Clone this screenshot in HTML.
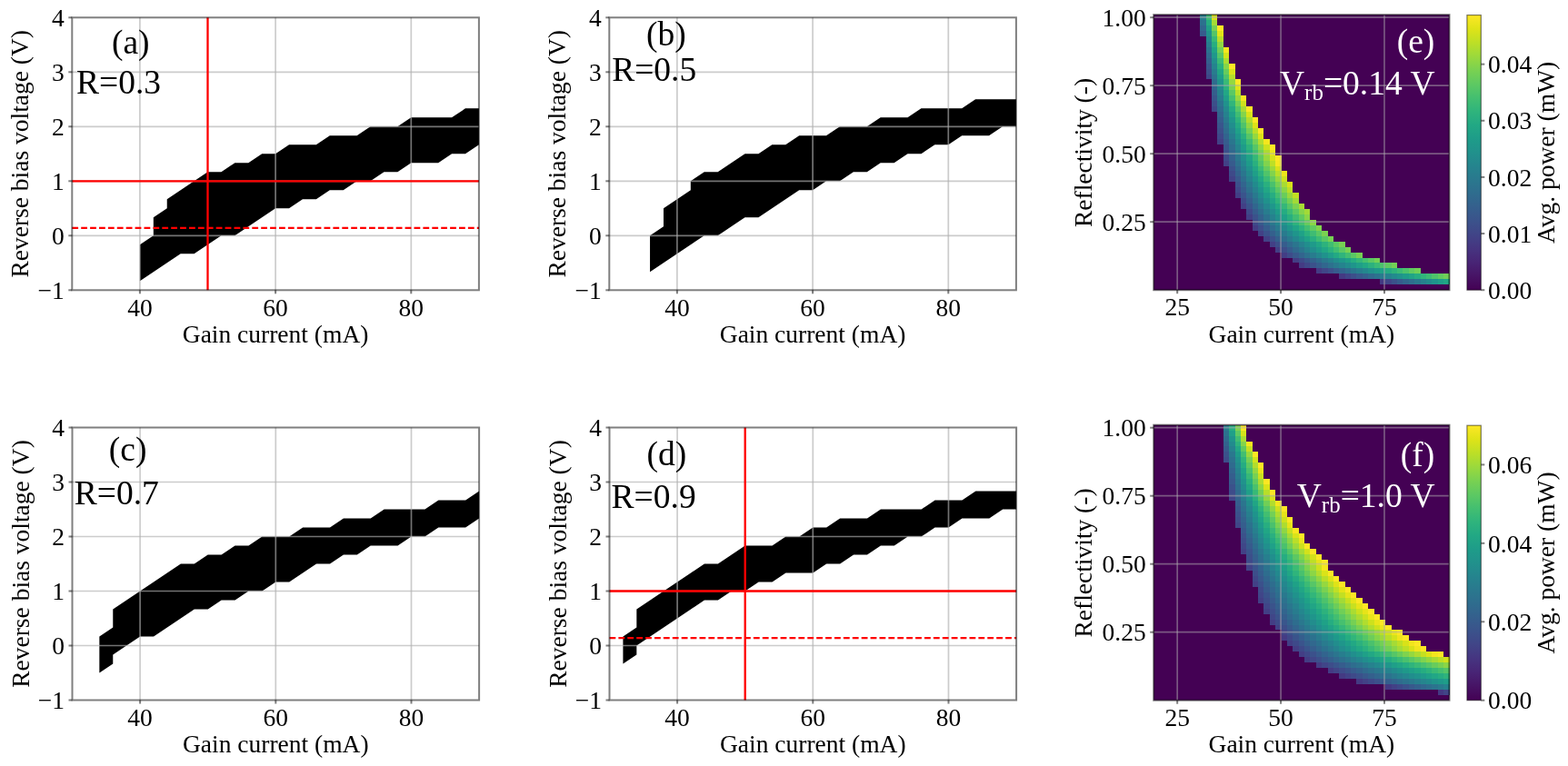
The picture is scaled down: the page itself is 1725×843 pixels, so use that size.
<!DOCTYPE html>
<html><head><meta charset="utf-8"><title>Figure</title>
<style>html,body{margin:0;padding:0;background:#fff;}svg{display:block;}</style>
</head><body>
<svg width="1725" height="843" viewBox="0 0 1725 843" font-family="'Liberation Serif',serif">
<rect width="1725" height="843" fill="#fff"/>
<polygon points="153.9,269.3 168.82,259.3 168.82,239.3 183.74,229.3 183.74,219.3 198.66,209.3 213.58,199.3 228.5,189.3 243.42,189.3 258.34,179.3 273.26,179.3 288.18,169.3 303.1,169.3 318.02,159.3 332.94,159.3 347.86,159.3 362.78,149.3 377.7,149.3 392.62,149.3 407.54,139.3 422.46,139.3 437.38,139.3 452.3,129.3 467.22,129.3 482.14,129.3 497.06,129.3 511.98,119.3 526.9,119.3 526.9,159.3 511.98,169.3 497.06,169.3 482.14,179.3 467.22,179.3 452.3,179.3 437.38,189.3 422.46,189.3 407.54,199.3 392.62,199.3 377.7,209.3 362.78,209.3 347.86,219.3 332.94,219.3 318.02,229.3 303.1,229.3 288.18,239.3 273.26,249.3 258.34,259.3 243.42,259.3 228.5,269.3 213.58,279.3 198.66,279.3 183.74,289.3 168.82,299.3 153.9,309.3" fill="#000"/>
<line x1="153.9" y1="19.3" x2="153.9" y2="319.3" stroke="#b0b0b0" stroke-opacity="0.65" stroke-width="1.7"/>
<line x1="303.1" y1="19.3" x2="303.1" y2="319.3" stroke="#b0b0b0" stroke-opacity="0.65" stroke-width="1.7"/>
<line x1="452.3" y1="19.3" x2="452.3" y2="319.3" stroke="#b0b0b0" stroke-opacity="0.65" stroke-width="1.7"/>
<line x1="79.3" y1="259.3" x2="526.9" y2="259.3" stroke="#b0b0b0" stroke-opacity="0.65" stroke-width="1.7"/>
<line x1="79.3" y1="199.3" x2="526.9" y2="199.3" stroke="#b0b0b0" stroke-opacity="0.65" stroke-width="1.7"/>
<line x1="79.3" y1="139.3" x2="526.9" y2="139.3" stroke="#b0b0b0" stroke-opacity="0.65" stroke-width="1.7"/>
<line x1="79.3" y1="79.3" x2="526.9" y2="79.3" stroke="#b0b0b0" stroke-opacity="0.65" stroke-width="1.7"/>
<line x1="228.5" y1="19.3" x2="228.5" y2="319.3" stroke="#ff0000" stroke-width="2.3"/>
<line x1="79.3" y1="199.3" x2="526.9" y2="199.3" stroke="#ff0000" stroke-width="2.3"/>
<line x1="79.3" y1="250.9" x2="526.9" y2="250.9" stroke="#ff0000" stroke-width="2.1" stroke-dasharray="6.8 3.1"/>
<rect x="79.3" y="19.3" width="447.6" height="300" fill="none" stroke="#000" stroke-opacity="0.5" stroke-width="2"/>
<line x1="153.9" y1="319.3" x2="153.9" y2="323.3" stroke="#000" stroke-opacity="0.5" stroke-width="2"/>
<text x="153.9" y="347.5" font-size="27.5" text-anchor="middle">40</text>
<line x1="303.1" y1="319.3" x2="303.1" y2="323.3" stroke="#000" stroke-opacity="0.5" stroke-width="2"/>
<text x="303.1" y="347.5" font-size="27.5" text-anchor="middle">60</text>
<line x1="452.3" y1="319.3" x2="452.3" y2="323.3" stroke="#000" stroke-opacity="0.5" stroke-width="2"/>
<text x="452.3" y="347.5" font-size="27.5" text-anchor="middle">80</text>
<line x1="75.3" y1="319.3" x2="79.3" y2="319.3" stroke="#000" stroke-opacity="0.5" stroke-width="2"/>
<text x="70.8" y="329" font-size="27.5" text-anchor="end">−1</text>
<line x1="75.3" y1="259.3" x2="79.3" y2="259.3" stroke="#000" stroke-opacity="0.5" stroke-width="2"/>
<text x="70.8" y="269" font-size="27.5" text-anchor="end">0</text>
<line x1="75.3" y1="199.3" x2="79.3" y2="199.3" stroke="#000" stroke-opacity="0.5" stroke-width="2"/>
<text x="70.8" y="209" font-size="27.5" text-anchor="end">1</text>
<line x1="75.3" y1="139.3" x2="79.3" y2="139.3" stroke="#000" stroke-opacity="0.5" stroke-width="2"/>
<text x="70.8" y="149" font-size="27.5" text-anchor="end">2</text>
<line x1="75.3" y1="79.3" x2="79.3" y2="79.3" stroke="#000" stroke-opacity="0.5" stroke-width="2"/>
<text x="70.8" y="89" font-size="27.5" text-anchor="end">3</text>
<line x1="75.3" y1="19.3" x2="79.3" y2="19.3" stroke="#000" stroke-opacity="0.5" stroke-width="2"/>
<text x="70.8" y="29" font-size="27.5" text-anchor="end">4</text>
<text x="303.1" y="376.8" font-size="27.5" text-anchor="middle">Gain current (mA)</text>
<text transform="translate(31.3,169.3) rotate(-90)" font-size="27.5" text-anchor="middle">Reverse bias voltage (V)</text>
<text x="122.9" y="58.6" font-size="37.5">(a)</text>
<text x="84" y="102.8" font-size="37.5">R=0.3</text>
<polygon points="715.06,259.3 729.98,249.3 729.98,229.3 744.9,219.3 759.82,209.3 759.82,199.3 774.74,189.3 789.66,189.3 804.58,179.3 819.5,169.3 834.42,169.3 849.34,159.3 864.26,159.3 879.18,149.3 894.1,149.3 909.02,149.3 923.94,139.3 938.86,139.3 953.78,139.3 968.7,129.3 983.62,129.3 998.54,129.3 1013.46,119.3 1028.38,119.3 1043.3,119.3 1058.22,119.3 1073.14,109.3 1088.06,109.3 1102.98,109.3 1117.9,109.3 1117.9,139.3 1102.98,139.3 1088.06,149.3 1073.14,149.3 1058.22,149.3 1043.3,159.3 1028.38,159.3 1013.46,169.3 998.54,169.3 983.62,179.3 968.7,179.3 953.78,189.3 938.86,189.3 923.94,199.3 909.02,199.3 894.1,209.3 879.18,209.3 864.26,219.3 849.34,229.3 834.42,239.3 819.5,239.3 804.58,249.3 789.66,259.3 774.74,259.3 759.82,269.3 744.9,279.3 729.98,289.3 715.06,299.3" fill="#000"/>
<line x1="744.9" y1="19.3" x2="744.9" y2="319.3" stroke="#b0b0b0" stroke-opacity="0.65" stroke-width="1.7"/>
<line x1="894.1" y1="19.3" x2="894.1" y2="319.3" stroke="#b0b0b0" stroke-opacity="0.65" stroke-width="1.7"/>
<line x1="1043.3" y1="19.3" x2="1043.3" y2="319.3" stroke="#b0b0b0" stroke-opacity="0.65" stroke-width="1.7"/>
<line x1="670.3" y1="259.3" x2="1117.9" y2="259.3" stroke="#b0b0b0" stroke-opacity="0.65" stroke-width="1.7"/>
<line x1="670.3" y1="199.3" x2="1117.9" y2="199.3" stroke="#b0b0b0" stroke-opacity="0.65" stroke-width="1.7"/>
<line x1="670.3" y1="139.3" x2="1117.9" y2="139.3" stroke="#b0b0b0" stroke-opacity="0.65" stroke-width="1.7"/>
<line x1="670.3" y1="79.3" x2="1117.9" y2="79.3" stroke="#b0b0b0" stroke-opacity="0.65" stroke-width="1.7"/>
<rect x="670.3" y="19.3" width="447.6" height="300" fill="none" stroke="#000" stroke-opacity="0.5" stroke-width="2"/>
<line x1="744.9" y1="319.3" x2="744.9" y2="323.3" stroke="#000" stroke-opacity="0.5" stroke-width="2"/>
<text x="744.9" y="347.5" font-size="27.5" text-anchor="middle">40</text>
<line x1="894.1" y1="319.3" x2="894.1" y2="323.3" stroke="#000" stroke-opacity="0.5" stroke-width="2"/>
<text x="894.1" y="347.5" font-size="27.5" text-anchor="middle">60</text>
<line x1="1043.3" y1="319.3" x2="1043.3" y2="323.3" stroke="#000" stroke-opacity="0.5" stroke-width="2"/>
<text x="1043.3" y="347.5" font-size="27.5" text-anchor="middle">80</text>
<line x1="666.3" y1="319.3" x2="670.3" y2="319.3" stroke="#000" stroke-opacity="0.5" stroke-width="2"/>
<text x="661.8" y="329" font-size="27.5" text-anchor="end">−1</text>
<line x1="666.3" y1="259.3" x2="670.3" y2="259.3" stroke="#000" stroke-opacity="0.5" stroke-width="2"/>
<text x="661.8" y="269" font-size="27.5" text-anchor="end">0</text>
<line x1="666.3" y1="199.3" x2="670.3" y2="199.3" stroke="#000" stroke-opacity="0.5" stroke-width="2"/>
<text x="661.8" y="209" font-size="27.5" text-anchor="end">1</text>
<line x1="666.3" y1="139.3" x2="670.3" y2="139.3" stroke="#000" stroke-opacity="0.5" stroke-width="2"/>
<text x="661.8" y="149" font-size="27.5" text-anchor="end">2</text>
<line x1="666.3" y1="79.3" x2="670.3" y2="79.3" stroke="#000" stroke-opacity="0.5" stroke-width="2"/>
<text x="661.8" y="89" font-size="27.5" text-anchor="end">3</text>
<line x1="666.3" y1="19.3" x2="670.3" y2="19.3" stroke="#000" stroke-opacity="0.5" stroke-width="2"/>
<text x="661.8" y="29" font-size="27.5" text-anchor="end">4</text>
<text x="894.1" y="376.8" font-size="27.5" text-anchor="middle">Gain current (mA)</text>
<text transform="translate(622.3,169.3) rotate(-90)" font-size="27.5" text-anchor="middle">Reverse bias voltage (V)</text>
<text x="711" y="50.2" font-size="37.5">(b)</text>
<text x="673.2" y="88.6" font-size="37.5">R=0.5</text>
<polygon points="109.34,700.5 124.26,690.5 124.26,670.5 139.18,660.5 154.1,650.5 169.02,640.5 183.94,630.5 198.86,620.5 213.78,620.5 228.7,610.5 243.62,610.5 258.54,600.5 273.46,600.5 288.38,590.5 303.3,590.5 318.22,590.5 333.14,580.5 348.06,580.5 362.98,580.5 377.9,570.5 392.82,570.5 407.74,570.5 422.66,560.5 437.58,560.5 452.5,560.5 467.42,560.5 482.34,550.5 497.26,550.5 512.18,550.5 527.1,540.5 527.1,570.5 512.18,580.5 497.26,580.5 482.34,580.5 467.42,590.5 452.5,590.5 437.58,600.5 422.66,600.5 407.74,600.5 392.82,610.5 377.9,610.5 362.98,620.5 348.06,620.5 333.14,630.5 318.22,640.5 303.3,640.5 288.38,650.5 273.46,650.5 258.54,660.5 243.62,660.5 228.7,670.5 213.78,670.5 198.86,680.5 183.94,690.5 169.02,700.5 154.1,700.5 139.18,710.5 124.26,720.5 124.26,730.5 109.34,740.5" fill="#000"/>
<line x1="154.1" y1="470.5" x2="154.1" y2="770.5" stroke="#b0b0b0" stroke-opacity="0.65" stroke-width="1.7"/>
<line x1="303.3" y1="470.5" x2="303.3" y2="770.5" stroke="#b0b0b0" stroke-opacity="0.65" stroke-width="1.7"/>
<line x1="452.5" y1="470.5" x2="452.5" y2="770.5" stroke="#b0b0b0" stroke-opacity="0.65" stroke-width="1.7"/>
<line x1="79.5" y1="710.5" x2="527.1" y2="710.5" stroke="#b0b0b0" stroke-opacity="0.65" stroke-width="1.7"/>
<line x1="79.5" y1="650.5" x2="527.1" y2="650.5" stroke="#b0b0b0" stroke-opacity="0.65" stroke-width="1.7"/>
<line x1="79.5" y1="590.5" x2="527.1" y2="590.5" stroke="#b0b0b0" stroke-opacity="0.65" stroke-width="1.7"/>
<line x1="79.5" y1="530.5" x2="527.1" y2="530.5" stroke="#b0b0b0" stroke-opacity="0.65" stroke-width="1.7"/>
<rect x="79.5" y="470.5" width="447.6" height="300" fill="none" stroke="#000" stroke-opacity="0.5" stroke-width="2"/>
<line x1="154.1" y1="770.5" x2="154.1" y2="774.5" stroke="#000" stroke-opacity="0.5" stroke-width="2"/>
<text x="154.1" y="798.7" font-size="27.5" text-anchor="middle">40</text>
<line x1="303.3" y1="770.5" x2="303.3" y2="774.5" stroke="#000" stroke-opacity="0.5" stroke-width="2"/>
<text x="303.3" y="798.7" font-size="27.5" text-anchor="middle">60</text>
<line x1="452.5" y1="770.5" x2="452.5" y2="774.5" stroke="#000" stroke-opacity="0.5" stroke-width="2"/>
<text x="452.5" y="798.7" font-size="27.5" text-anchor="middle">80</text>
<line x1="75.5" y1="770.5" x2="79.5" y2="770.5" stroke="#000" stroke-opacity="0.5" stroke-width="2"/>
<text x="71" y="780.2" font-size="27.5" text-anchor="end">−1</text>
<line x1="75.5" y1="710.5" x2="79.5" y2="710.5" stroke="#000" stroke-opacity="0.5" stroke-width="2"/>
<text x="71" y="720.2" font-size="27.5" text-anchor="end">0</text>
<line x1="75.5" y1="650.5" x2="79.5" y2="650.5" stroke="#000" stroke-opacity="0.5" stroke-width="2"/>
<text x="71" y="660.2" font-size="27.5" text-anchor="end">1</text>
<line x1="75.5" y1="590.5" x2="79.5" y2="590.5" stroke="#000" stroke-opacity="0.5" stroke-width="2"/>
<text x="71" y="600.2" font-size="27.5" text-anchor="end">2</text>
<line x1="75.5" y1="530.5" x2="79.5" y2="530.5" stroke="#000" stroke-opacity="0.5" stroke-width="2"/>
<text x="71" y="540.2" font-size="27.5" text-anchor="end">3</text>
<line x1="75.5" y1="470.5" x2="79.5" y2="470.5" stroke="#000" stroke-opacity="0.5" stroke-width="2"/>
<text x="71" y="480.2" font-size="27.5" text-anchor="end">4</text>
<text x="303.3" y="828" font-size="27.5" text-anchor="middle">Gain current (mA)</text>
<text transform="translate(31.5,620.5) rotate(-90)" font-size="27.5" text-anchor="middle">Reverse bias voltage (V)</text>
<text x="119.8" y="506.8" font-size="37.5">(c)</text>
<text x="81.8" y="554.6" font-size="37.5">R=0.7</text>
<polygon points="685.42,700.5 700.34,690.5 700.34,670.5 715.26,660.5 730.18,650.5 745.1,640.5 760.02,630.5 774.94,620.5 789.86,620.5 804.78,610.5 819.7,600.5 834.62,600.5 849.54,600.5 864.46,590.5 879.38,590.5 894.3,580.5 909.22,580.5 924.14,570.5 939.06,570.5 953.98,570.5 968.9,560.5 983.82,560.5 998.74,560.5 1013.66,560.5 1028.58,550.5 1043.5,550.5 1058.42,550.5 1073.34,540.5 1088.26,540.5 1103.18,540.5 1118.1,540.5 1118.1,560.5 1103.18,560.5 1088.26,570.5 1073.34,570.5 1058.42,570.5 1043.5,580.5 1028.58,580.5 1013.66,590.5 998.74,590.5 983.82,600.5 968.9,600.5 953.98,610.5 939.06,610.5 924.14,620.5 909.22,620.5 894.3,630.5 879.38,630.5 864.46,630.5 849.54,640.5 834.62,640.5 819.7,650.5 804.78,650.5 789.86,660.5 774.94,660.5 760.02,670.5 745.1,680.5 730.18,690.5 715.26,700.5 700.34,710.5 700.34,720.5 685.42,730.5" fill="#000"/>
<line x1="745.1" y1="470.5" x2="745.1" y2="770.5" stroke="#b0b0b0" stroke-opacity="0.65" stroke-width="1.7"/>
<line x1="894.3" y1="470.5" x2="894.3" y2="770.5" stroke="#b0b0b0" stroke-opacity="0.65" stroke-width="1.7"/>
<line x1="1043.5" y1="470.5" x2="1043.5" y2="770.5" stroke="#b0b0b0" stroke-opacity="0.65" stroke-width="1.7"/>
<line x1="670.5" y1="710.5" x2="1118.1" y2="710.5" stroke="#b0b0b0" stroke-opacity="0.65" stroke-width="1.7"/>
<line x1="670.5" y1="650.5" x2="1118.1" y2="650.5" stroke="#b0b0b0" stroke-opacity="0.65" stroke-width="1.7"/>
<line x1="670.5" y1="590.5" x2="1118.1" y2="590.5" stroke="#b0b0b0" stroke-opacity="0.65" stroke-width="1.7"/>
<line x1="670.5" y1="530.5" x2="1118.1" y2="530.5" stroke="#b0b0b0" stroke-opacity="0.65" stroke-width="1.7"/>
<line x1="819.7" y1="470.5" x2="819.7" y2="770.5" stroke="#ff0000" stroke-width="2.3"/>
<line x1="670.5" y1="650.5" x2="1118.1" y2="650.5" stroke="#ff0000" stroke-width="2.3"/>
<line x1="670.5" y1="702.1" x2="1118.1" y2="702.1" stroke="#ff0000" stroke-width="2.1" stroke-dasharray="6.8 3.1"/>
<rect x="670.5" y="470.5" width="447.6" height="300" fill="none" stroke="#000" stroke-opacity="0.5" stroke-width="2"/>
<line x1="745.1" y1="770.5" x2="745.1" y2="774.5" stroke="#000" stroke-opacity="0.5" stroke-width="2"/>
<text x="745.1" y="798.7" font-size="27.5" text-anchor="middle">40</text>
<line x1="894.3" y1="770.5" x2="894.3" y2="774.5" stroke="#000" stroke-opacity="0.5" stroke-width="2"/>
<text x="894.3" y="798.7" font-size="27.5" text-anchor="middle">60</text>
<line x1="1043.5" y1="770.5" x2="1043.5" y2="774.5" stroke="#000" stroke-opacity="0.5" stroke-width="2"/>
<text x="1043.5" y="798.7" font-size="27.5" text-anchor="middle">80</text>
<line x1="666.5" y1="770.5" x2="670.5" y2="770.5" stroke="#000" stroke-opacity="0.5" stroke-width="2"/>
<text x="662" y="780.2" font-size="27.5" text-anchor="end">−1</text>
<line x1="666.5" y1="710.5" x2="670.5" y2="710.5" stroke="#000" stroke-opacity="0.5" stroke-width="2"/>
<text x="662" y="720.2" font-size="27.5" text-anchor="end">0</text>
<line x1="666.5" y1="650.5" x2="670.5" y2="650.5" stroke="#000" stroke-opacity="0.5" stroke-width="2"/>
<text x="662" y="660.2" font-size="27.5" text-anchor="end">1</text>
<line x1="666.5" y1="590.5" x2="670.5" y2="590.5" stroke="#000" stroke-opacity="0.5" stroke-width="2"/>
<text x="662" y="600.2" font-size="27.5" text-anchor="end">2</text>
<line x1="666.5" y1="530.5" x2="670.5" y2="530.5" stroke="#000" stroke-opacity="0.5" stroke-width="2"/>
<text x="662" y="540.2" font-size="27.5" text-anchor="end">3</text>
<line x1="666.5" y1="470.5" x2="670.5" y2="470.5" stroke="#000" stroke-opacity="0.5" stroke-width="2"/>
<text x="662" y="480.2" font-size="27.5" text-anchor="end">4</text>
<text x="894.3" y="828" font-size="27.5" text-anchor="middle">Gain current (mA)</text>
<text transform="translate(622.5,620.5) rotate(-90)" font-size="27.5" text-anchor="middle">Reverse bias voltage (V)</text>
<text x="711.5" y="512.2" font-size="37.5">(d)</text>
<text x="672.6" y="559.2" font-size="37.5">R=0.9</text>
<rect x="1269.2" y="16.2" width="325.3" height="303" fill="#440154"/>
<rect x="1320.23" y="16.2" width="6.38" height="5.94" fill="#277e8e" shape-rendering="crispEdges"/>
<rect x="1326.61" y="16.2" width="6.38" height="5.94" fill="#3dbc74" shape-rendering="crispEdges"/>
<rect x="1332.98" y="16.2" width="6.38" height="5.94" fill="#dae319" shape-rendering="crispEdges"/>
<rect x="1320.23" y="22.14" width="6.38" height="5.94" fill="#2c718e" shape-rendering="crispEdges"/>
<rect x="1326.61" y="22.14" width="6.38" height="5.94" fill="#26ad81" shape-rendering="crispEdges"/>
<rect x="1332.98" y="22.14" width="6.38" height="5.94" fill="#a5db36" shape-rendering="crispEdges"/>
<rect x="1320.23" y="28.08" width="6.38" height="5.94" fill="#31668e" shape-rendering="crispEdges"/>
<rect x="1326.61" y="28.08" width="6.38" height="5.94" fill="#1f9f88" shape-rendering="crispEdges"/>
<rect x="1332.98" y="28.08" width="6.38" height="5.94" fill="#77d153" shape-rendering="crispEdges"/>
<rect x="1339.36" y="28.08" width="6.38" height="5.94" fill="#fde725" shape-rendering="crispEdges"/>
<rect x="1320.23" y="34.02" width="6.38" height="5.94" fill="#375b8d" shape-rendering="crispEdges"/>
<rect x="1326.61" y="34.02" width="6.38" height="5.94" fill="#20928c" shape-rendering="crispEdges"/>
<rect x="1332.98" y="34.02" width="6.38" height="5.94" fill="#54c568" shape-rendering="crispEdges"/>
<rect x="1339.36" y="34.02" width="6.38" height="5.94" fill="#e2e418" shape-rendering="crispEdges"/>
<rect x="1326.61" y="39.96" width="6.38" height="5.94" fill="#24868e" shape-rendering="crispEdges"/>
<rect x="1332.98" y="39.96" width="6.38" height="5.94" fill="#38b977" shape-rendering="crispEdges"/>
<rect x="1339.36" y="39.96" width="6.38" height="5.94" fill="#b8de29" shape-rendering="crispEdges"/>
<rect x="1326.61" y="45.91" width="6.38" height="5.94" fill="#287c8e" shape-rendering="crispEdges"/>
<rect x="1332.98" y="45.91" width="6.38" height="5.94" fill="#28ae80" shape-rendering="crispEdges"/>
<rect x="1339.36" y="45.91" width="6.38" height="5.94" fill="#90d743" shape-rendering="crispEdges"/>
<rect x="1326.61" y="51.85" width="6.38" height="5.94" fill="#2c718e" shape-rendering="crispEdges"/>
<rect x="1332.98" y="51.85" width="6.38" height="5.94" fill="#20a386" shape-rendering="crispEdges"/>
<rect x="1339.36" y="51.85" width="6.38" height="5.94" fill="#70cf57" shape-rendering="crispEdges"/>
<rect x="1345.74" y="51.85" width="6.38" height="5.94" fill="#f6e620" shape-rendering="crispEdges"/>
<rect x="1326.61" y="57.79" width="6.38" height="5.94" fill="#31688e" shape-rendering="crispEdges"/>
<rect x="1332.98" y="57.79" width="6.38" height="5.94" fill="#1f988b" shape-rendering="crispEdges"/>
<rect x="1339.36" y="57.79" width="6.38" height="5.94" fill="#54c568" shape-rendering="crispEdges"/>
<rect x="1345.74" y="57.79" width="6.38" height="5.94" fill="#d2e21b" shape-rendering="crispEdges"/>
<rect x="1326.61" y="63.73" width="6.38" height="5.94" fill="#355f8d" shape-rendering="crispEdges"/>
<rect x="1332.98" y="63.73" width="6.38" height="5.94" fill="#218e8d" shape-rendering="crispEdges"/>
<rect x="1339.36" y="63.73" width="6.38" height="5.94" fill="#3bbb75" shape-rendering="crispEdges"/>
<rect x="1345.74" y="63.73" width="6.38" height="5.94" fill="#aadc32" shape-rendering="crispEdges"/>
<rect x="1326.61" y="69.67" width="6.38" height="5.94" fill="#39568c" shape-rendering="crispEdges"/>
<rect x="1332.98" y="69.67" width="6.38" height="5.94" fill="#25848e" shape-rendering="crispEdges"/>
<rect x="1339.36" y="69.67" width="6.38" height="5.94" fill="#2ab07f" shape-rendering="crispEdges"/>
<rect x="1345.74" y="69.67" width="6.38" height="5.94" fill="#86d549" shape-rendering="crispEdges"/>
<rect x="1352.12" y="69.67" width="6.38" height="5.94" fill="#fde725" shape-rendering="crispEdges"/>
<rect x="1326.61" y="75.61" width="6.38" height="5.94" fill="#3c4f8a" shape-rendering="crispEdges"/>
<rect x="1332.98" y="75.61" width="6.38" height="5.94" fill="#287c8e" shape-rendering="crispEdges"/>
<rect x="1339.36" y="75.61" width="6.38" height="5.94" fill="#21a685" shape-rendering="crispEdges"/>
<rect x="1345.74" y="75.61" width="6.38" height="5.94" fill="#67cc5c" shape-rendering="crispEdges"/>
<rect x="1352.12" y="75.61" width="6.38" height="5.94" fill="#dae319" shape-rendering="crispEdges"/>
<rect x="1326.61" y="81.55" width="6.38" height="5.94" fill="#3f4788" shape-rendering="crispEdges"/>
<rect x="1332.98" y="81.55" width="6.38" height="5.94" fill="#2c738e" shape-rendering="crispEdges"/>
<rect x="1339.36" y="81.55" width="6.38" height="5.94" fill="#1e9d89" shape-rendering="crispEdges"/>
<rect x="1345.74" y="81.55" width="6.38" height="5.94" fill="#4ec36b" shape-rendering="crispEdges"/>
<rect x="1352.12" y="81.55" width="6.38" height="5.94" fill="#b5de2b" shape-rendering="crispEdges"/>
<rect x="1332.98" y="87.49" width="6.38" height="5.94" fill="#2f6c8e" shape-rendering="crispEdges"/>
<rect x="1339.36" y="87.49" width="6.38" height="5.94" fill="#20938c" shape-rendering="crispEdges"/>
<rect x="1345.74" y="87.49" width="6.38" height="5.94" fill="#3aba76" shape-rendering="crispEdges"/>
<rect x="1352.12" y="87.49" width="6.38" height="5.94" fill="#95d840" shape-rendering="crispEdges"/>
<rect x="1358.5" y="87.49" width="6.38" height="5.94" fill="#fde725" shape-rendering="crispEdges"/>
<rect x="1332.98" y="93.44" width="6.38" height="5.94" fill="#32658e" shape-rendering="crispEdges"/>
<rect x="1339.36" y="93.44" width="6.38" height="5.94" fill="#228b8d" shape-rendering="crispEdges"/>
<rect x="1345.74" y="93.44" width="6.38" height="5.94" fill="#2cb17e" shape-rendering="crispEdges"/>
<rect x="1352.12" y="93.44" width="6.38" height="5.94" fill="#77d153" shape-rendering="crispEdges"/>
<rect x="1358.5" y="93.44" width="6.38" height="5.94" fill="#dfe318" shape-rendering="crispEdges"/>
<rect x="1332.98" y="99.38" width="6.38" height="5.94" fill="#355e8d" shape-rendering="crispEdges"/>
<rect x="1339.36" y="99.38" width="6.38" height="5.94" fill="#26828e" shape-rendering="crispEdges"/>
<rect x="1345.74" y="99.38" width="6.38" height="5.94" fill="#22a785" shape-rendering="crispEdges"/>
<rect x="1352.12" y="99.38" width="6.38" height="5.94" fill="#5ac864" shape-rendering="crispEdges"/>
<rect x="1358.5" y="99.38" width="6.38" height="5.94" fill="#bade28" shape-rendering="crispEdges"/>
<rect x="1332.98" y="105.32" width="6.38" height="5.94" fill="#39568c" shape-rendering="crispEdges"/>
<rect x="1339.36" y="105.32" width="6.38" height="5.94" fill="#297b8e" shape-rendering="crispEdges"/>
<rect x="1345.74" y="105.32" width="6.38" height="5.94" fill="#1f9e89" shape-rendering="crispEdges"/>
<rect x="1352.12" y="105.32" width="6.38" height="5.94" fill="#44bf70" shape-rendering="crispEdges"/>
<rect x="1358.5" y="105.32" width="6.38" height="5.94" fill="#98d83e" shape-rendering="crispEdges"/>
<rect x="1364.88" y="105.32" width="6.38" height="5.94" fill="#f8e621" shape-rendering="crispEdges"/>
<rect x="1332.98" y="111.26" width="6.38" height="5.94" fill="#3c4f8a" shape-rendering="crispEdges"/>
<rect x="1339.36" y="111.26" width="6.38" height="5.94" fill="#2c728e" shape-rendering="crispEdges"/>
<rect x="1345.74" y="111.26" width="6.38" height="5.94" fill="#20938c" shape-rendering="crispEdges"/>
<rect x="1352.12" y="111.26" width="6.38" height="5.94" fill="#31b57b" shape-rendering="crispEdges"/>
<rect x="1358.5" y="111.26" width="6.38" height="5.94" fill="#75d054" shape-rendering="crispEdges"/>
<rect x="1364.88" y="111.26" width="6.38" height="5.94" fill="#d0e11c" shape-rendering="crispEdges"/>
<rect x="1332.98" y="117.2" width="6.38" height="5.94" fill="#3f4788" shape-rendering="crispEdges"/>
<rect x="1339.36" y="117.2" width="6.38" height="5.94" fill="#2f6b8e" shape-rendering="crispEdges"/>
<rect x="1345.74" y="117.2" width="6.38" height="5.94" fill="#238a8d" shape-rendering="crispEdges"/>
<rect x="1352.12" y="117.2" width="6.38" height="5.94" fill="#24aa83" shape-rendering="crispEdges"/>
<rect x="1358.5" y="117.2" width="6.38" height="5.94" fill="#56c667" shape-rendering="crispEdges"/>
<rect x="1364.88" y="117.2" width="6.38" height="5.94" fill="#a8db34" shape-rendering="crispEdges"/>
<rect x="1371.25" y="117.2" width="6.38" height="5.94" fill="#fde725" shape-rendering="crispEdges"/>
<rect x="1339.36" y="123.14" width="6.38" height="5.94" fill="#33638d" shape-rendering="crispEdges"/>
<rect x="1345.74" y="123.14" width="6.38" height="5.94" fill="#26828e" shape-rendering="crispEdges"/>
<rect x="1352.12" y="123.14" width="6.38" height="5.94" fill="#1fa088" shape-rendering="crispEdges"/>
<rect x="1358.5" y="123.14" width="6.38" height="5.94" fill="#3fbc73" shape-rendering="crispEdges"/>
<rect x="1364.88" y="123.14" width="6.38" height="5.94" fill="#84d44b" shape-rendering="crispEdges"/>
<rect x="1371.25" y="123.14" width="6.38" height="5.94" fill="#d8e219" shape-rendering="crispEdges"/>
<rect x="1339.36" y="129.08" width="6.38" height="5.94" fill="#365c8d" shape-rendering="crispEdges"/>
<rect x="1345.74" y="129.08" width="6.38" height="5.94" fill="#297a8e" shape-rendering="crispEdges"/>
<rect x="1352.12" y="129.08" width="6.38" height="5.94" fill="#1f968b" shape-rendering="crispEdges"/>
<rect x="1358.5" y="129.08" width="6.38" height="5.94" fill="#2eb37c" shape-rendering="crispEdges"/>
<rect x="1364.88" y="129.08" width="6.38" height="5.94" fill="#65cb5e" shape-rendering="crispEdges"/>
<rect x="1371.25" y="129.08" width="6.38" height="5.94" fill="#b2dd2d" shape-rendering="crispEdges"/>
<rect x="1377.63" y="129.08" width="6.38" height="5.94" fill="#fde725" shape-rendering="crispEdges"/>
<rect x="1339.36" y="135.02" width="6.38" height="5.94" fill="#39558c" shape-rendering="crispEdges"/>
<rect x="1345.74" y="135.02" width="6.38" height="5.94" fill="#2c728e" shape-rendering="crispEdges"/>
<rect x="1352.12" y="135.02" width="6.38" height="5.94" fill="#218e8d" shape-rendering="crispEdges"/>
<rect x="1358.5" y="135.02" width="6.38" height="5.94" fill="#24aa83" shape-rendering="crispEdges"/>
<rect x="1364.88" y="135.02" width="6.38" height="5.94" fill="#4ec36b" shape-rendering="crispEdges"/>
<rect x="1371.25" y="135.02" width="6.38" height="5.94" fill="#90d743" shape-rendering="crispEdges"/>
<rect x="1377.63" y="135.02" width="6.38" height="5.94" fill="#dde318" shape-rendering="crispEdges"/>
<rect x="1339.36" y="140.96" width="6.38" height="5.94" fill="#3c4f8a" shape-rendering="crispEdges"/>
<rect x="1345.74" y="140.96" width="6.38" height="5.94" fill="#2f6c8e" shape-rendering="crispEdges"/>
<rect x="1352.12" y="140.96" width="6.38" height="5.94" fill="#24868e" shape-rendering="crispEdges"/>
<rect x="1358.5" y="140.96" width="6.38" height="5.94" fill="#1fa188" shape-rendering="crispEdges"/>
<rect x="1364.88" y="140.96" width="6.38" height="5.94" fill="#3aba76" shape-rendering="crispEdges"/>
<rect x="1371.25" y="140.96" width="6.38" height="5.94" fill="#73d056" shape-rendering="crispEdges"/>
<rect x="1377.63" y="140.96" width="6.38" height="5.94" fill="#bade28" shape-rendering="crispEdges"/>
<rect x="1384.01" y="140.96" width="6.38" height="5.94" fill="#fde725" shape-rendering="crispEdges"/>
<rect x="1339.36" y="146.91" width="6.38" height="5.94" fill="#3f4889" shape-rendering="crispEdges"/>
<rect x="1345.74" y="146.91" width="6.38" height="5.94" fill="#32648e" shape-rendering="crispEdges"/>
<rect x="1352.12" y="146.91" width="6.38" height="5.94" fill="#277e8e" shape-rendering="crispEdges"/>
<rect x="1358.5" y="146.91" width="6.38" height="5.94" fill="#1f978b" shape-rendering="crispEdges"/>
<rect x="1364.88" y="146.91" width="6.38" height="5.94" fill="#29af7f" shape-rendering="crispEdges"/>
<rect x="1371.25" y="146.91" width="6.38" height="5.94" fill="#56c667" shape-rendering="crispEdges"/>
<rect x="1377.63" y="146.91" width="6.38" height="5.94" fill="#95d840" shape-rendering="crispEdges"/>
<rect x="1384.01" y="146.91" width="6.38" height="5.94" fill="#dde318" shape-rendering="crispEdges"/>
<rect x="1339.36" y="152.85" width="6.38" height="5.94" fill="#424186" shape-rendering="crispEdges"/>
<rect x="1345.74" y="152.85" width="6.38" height="5.94" fill="#365d8d" shape-rendering="crispEdges"/>
<rect x="1352.12" y="152.85" width="6.38" height="5.94" fill="#2a768e" shape-rendering="crispEdges"/>
<rect x="1358.5" y="152.85" width="6.38" height="5.94" fill="#218e8d" shape-rendering="crispEdges"/>
<rect x="1364.88" y="152.85" width="6.38" height="5.94" fill="#21a585" shape-rendering="crispEdges"/>
<rect x="1371.25" y="152.85" width="6.38" height="5.94" fill="#3dbc74" shape-rendering="crispEdges"/>
<rect x="1377.63" y="152.85" width="6.38" height="5.94" fill="#73d056" shape-rendering="crispEdges"/>
<rect x="1384.01" y="152.85" width="6.38" height="5.94" fill="#b2dd2d" shape-rendering="crispEdges"/>
<rect x="1390.39" y="152.85" width="6.38" height="5.94" fill="#f4e61e" shape-rendering="crispEdges"/>
<rect x="1345.74" y="158.79" width="6.38" height="5.94" fill="#39568c" shape-rendering="crispEdges"/>
<rect x="1352.12" y="158.79" width="6.38" height="5.94" fill="#2e6f8e" shape-rendering="crispEdges"/>
<rect x="1358.5" y="158.79" width="6.38" height="5.94" fill="#25858e" shape-rendering="crispEdges"/>
<rect x="1364.88" y="158.79" width="6.38" height="5.94" fill="#1e9c89" shape-rendering="crispEdges"/>
<rect x="1371.25" y="158.79" width="6.38" height="5.94" fill="#2db27d" shape-rendering="crispEdges"/>
<rect x="1377.63" y="158.79" width="6.38" height="5.94" fill="#56c667" shape-rendering="crispEdges"/>
<rect x="1384.01" y="158.79" width="6.38" height="5.94" fill="#8ed645" shape-rendering="crispEdges"/>
<rect x="1390.39" y="158.79" width="6.38" height="5.94" fill="#cde11d" shape-rendering="crispEdges"/>
<rect x="1396.77" y="158.79" width="6.38" height="5.94" fill="#fde725" shape-rendering="crispEdges"/>
<rect x="1345.74" y="164.73" width="6.38" height="5.94" fill="#3c508b" shape-rendering="crispEdges"/>
<rect x="1352.12" y="164.73" width="6.38" height="5.94" fill="#31688e" shape-rendering="crispEdges"/>
<rect x="1358.5" y="164.73" width="6.38" height="5.94" fill="#277e8e" shape-rendering="crispEdges"/>
<rect x="1364.88" y="164.73" width="6.38" height="5.94" fill="#1f948c" shape-rendering="crispEdges"/>
<rect x="1371.25" y="164.73" width="6.38" height="5.94" fill="#24aa83" shape-rendering="crispEdges"/>
<rect x="1377.63" y="164.73" width="6.38" height="5.94" fill="#42be71" shape-rendering="crispEdges"/>
<rect x="1384.01" y="164.73" width="6.38" height="5.94" fill="#73d056" shape-rendering="crispEdges"/>
<rect x="1390.39" y="164.73" width="6.38" height="5.94" fill="#addc30" shape-rendering="crispEdges"/>
<rect x="1396.77" y="164.73" width="6.38" height="5.94" fill="#ece51b" shape-rendering="crispEdges"/>
<rect x="1345.74" y="170.67" width="6.38" height="5.94" fill="#3e4989" shape-rendering="crispEdges"/>
<rect x="1352.12" y="170.67" width="6.38" height="5.94" fill="#33628d" shape-rendering="crispEdges"/>
<rect x="1358.5" y="170.67" width="6.38" height="5.94" fill="#2a788e" shape-rendering="crispEdges"/>
<rect x="1364.88" y="170.67" width="6.38" height="5.94" fill="#228d8d" shape-rendering="crispEdges"/>
<rect x="1371.25" y="170.67" width="6.38" height="5.94" fill="#1fa287" shape-rendering="crispEdges"/>
<rect x="1377.63" y="170.67" width="6.38" height="5.94" fill="#35b779" shape-rendering="crispEdges"/>
<rect x="1384.01" y="170.67" width="6.38" height="5.94" fill="#60ca60" shape-rendering="crispEdges"/>
<rect x="1390.39" y="170.67" width="6.38" height="5.94" fill="#98d83e" shape-rendering="crispEdges"/>
<rect x="1396.77" y="170.67" width="6.38" height="5.94" fill="#d5e21a" shape-rendering="crispEdges"/>
<rect x="1403.15" y="170.67" width="6.38" height="5.94" fill="#fde725" shape-rendering="crispEdges"/>
<rect x="1345.74" y="176.61" width="6.38" height="5.94" fill="#424186" shape-rendering="crispEdges"/>
<rect x="1352.12" y="176.61" width="6.38" height="5.94" fill="#375b8d" shape-rendering="crispEdges"/>
<rect x="1358.5" y="176.61" width="6.38" height="5.94" fill="#2d718e" shape-rendering="crispEdges"/>
<rect x="1364.88" y="176.61" width="6.38" height="5.94" fill="#24868e" shape-rendering="crispEdges"/>
<rect x="1371.25" y="176.61" width="6.38" height="5.94" fill="#1e9b8a" shape-rendering="crispEdges"/>
<rect x="1377.63" y="176.61" width="6.38" height="5.94" fill="#2ab07f" shape-rendering="crispEdges"/>
<rect x="1384.01" y="176.61" width="6.38" height="5.94" fill="#50c46a" shape-rendering="crispEdges"/>
<rect x="1390.39" y="176.61" width="6.38" height="5.94" fill="#81d34d" shape-rendering="crispEdges"/>
<rect x="1396.77" y="176.61" width="6.38" height="5.94" fill="#bddf26" shape-rendering="crispEdges"/>
<rect x="1403.15" y="176.61" width="6.38" height="5.94" fill="#f8e621" shape-rendering="crispEdges"/>
<rect x="1352.12" y="182.55" width="6.38" height="5.94" fill="#3b528b" shape-rendering="crispEdges"/>
<rect x="1358.5" y="182.55" width="6.38" height="5.94" fill="#30698e" shape-rendering="crispEdges"/>
<rect x="1364.88" y="182.55" width="6.38" height="5.94" fill="#277e8e" shape-rendering="crispEdges"/>
<rect x="1371.25" y="182.55" width="6.38" height="5.94" fill="#20928c" shape-rendering="crispEdges"/>
<rect x="1377.63" y="182.55" width="6.38" height="5.94" fill="#22a785" shape-rendering="crispEdges"/>
<rect x="1384.01" y="182.55" width="6.38" height="5.94" fill="#3bbb75" shape-rendering="crispEdges"/>
<rect x="1390.39" y="182.55" width="6.38" height="5.94" fill="#67cc5c" shape-rendering="crispEdges"/>
<rect x="1396.77" y="182.55" width="6.38" height="5.94" fill="#9dd93b" shape-rendering="crispEdges"/>
<rect x="1403.15" y="182.55" width="6.38" height="5.94" fill="#d8e219" shape-rendering="crispEdges"/>
<rect x="1352.12" y="188.49" width="6.38" height="5.94" fill="#3e4a89" shape-rendering="crispEdges"/>
<rect x="1358.5" y="188.49" width="6.38" height="5.94" fill="#33628d" shape-rendering="crispEdges"/>
<rect x="1364.88" y="188.49" width="6.38" height="5.94" fill="#2a768e" shape-rendering="crispEdges"/>
<rect x="1371.25" y="188.49" width="6.38" height="5.94" fill="#238a8d" shape-rendering="crispEdges"/>
<rect x="1377.63" y="188.49" width="6.38" height="5.94" fill="#1f9f88" shape-rendering="crispEdges"/>
<rect x="1384.01" y="188.49" width="6.38" height="5.94" fill="#2db27d" shape-rendering="crispEdges"/>
<rect x="1390.39" y="188.49" width="6.38" height="5.94" fill="#50c46a" shape-rendering="crispEdges"/>
<rect x="1396.77" y="188.49" width="6.38" height="5.94" fill="#81d34d" shape-rendering="crispEdges"/>
<rect x="1403.15" y="188.49" width="6.38" height="5.94" fill="#b8de29" shape-rendering="crispEdges"/>
<rect x="1409.53" y="188.49" width="6.38" height="5.94" fill="#ece51b" shape-rendering="crispEdges"/>
<rect x="1352.12" y="194.44" width="6.38" height="5.94" fill="#414287" shape-rendering="crispEdges"/>
<rect x="1358.5" y="194.44" width="6.38" height="5.94" fill="#38598c" shape-rendering="crispEdges"/>
<rect x="1364.88" y="194.44" width="6.38" height="5.94" fill="#2e6e8e" shape-rendering="crispEdges"/>
<rect x="1371.25" y="194.44" width="6.38" height="5.94" fill="#26828e" shape-rendering="crispEdges"/>
<rect x="1377.63" y="194.44" width="6.38" height="5.94" fill="#1f948c" shape-rendering="crispEdges"/>
<rect x="1384.01" y="194.44" width="6.38" height="5.94" fill="#22a884" shape-rendering="crispEdges"/>
<rect x="1390.39" y="194.44" width="6.38" height="5.94" fill="#3bbb75" shape-rendering="crispEdges"/>
<rect x="1396.77" y="194.44" width="6.38" height="5.94" fill="#65cb5e" shape-rendering="crispEdges"/>
<rect x="1403.15" y="194.44" width="6.38" height="5.94" fill="#95d840" shape-rendering="crispEdges"/>
<rect x="1409.53" y="194.44" width="6.38" height="5.94" fill="#cde11d" shape-rendering="crispEdges"/>
<rect x="1358.5" y="200.38" width="6.38" height="5.94" fill="#3c508b" shape-rendering="crispEdges"/>
<rect x="1364.88" y="200.38" width="6.38" height="5.94" fill="#32658e" shape-rendering="crispEdges"/>
<rect x="1371.25" y="200.38" width="6.38" height="5.94" fill="#2a788e" shape-rendering="crispEdges"/>
<rect x="1377.63" y="200.38" width="6.38" height="5.94" fill="#228b8d" shape-rendering="crispEdges"/>
<rect x="1384.01" y="200.38" width="6.38" height="5.94" fill="#1f9e89" shape-rendering="crispEdges"/>
<rect x="1390.39" y="200.38" width="6.38" height="5.94" fill="#2ab07f" shape-rendering="crispEdges"/>
<rect x="1396.77" y="200.38" width="6.38" height="5.94" fill="#4ac16d" shape-rendering="crispEdges"/>
<rect x="1403.15" y="200.38" width="6.38" height="5.94" fill="#75d054" shape-rendering="crispEdges"/>
<rect x="1409.53" y="200.38" width="6.38" height="5.94" fill="#a8db34" shape-rendering="crispEdges"/>
<rect x="1415.9" y="200.38" width="6.38" height="5.94" fill="#d8e219" shape-rendering="crispEdges"/>
<rect x="1358.5" y="206.32" width="6.38" height="5.94" fill="#3f4889" shape-rendering="crispEdges"/>
<rect x="1364.88" y="206.32" width="6.38" height="5.94" fill="#365d8d" shape-rendering="crispEdges"/>
<rect x="1371.25" y="206.32" width="6.38" height="5.94" fill="#2d718e" shape-rendering="crispEdges"/>
<rect x="1377.63" y="206.32" width="6.38" height="5.94" fill="#26828e" shape-rendering="crispEdges"/>
<rect x="1384.01" y="206.32" width="6.38" height="5.94" fill="#1f948c" shape-rendering="crispEdges"/>
<rect x="1390.39" y="206.32" width="6.38" height="5.94" fill="#22a785" shape-rendering="crispEdges"/>
<rect x="1396.77" y="206.32" width="6.38" height="5.94" fill="#37b878" shape-rendering="crispEdges"/>
<rect x="1403.15" y="206.32" width="6.38" height="5.94" fill="#5ac864" shape-rendering="crispEdges"/>
<rect x="1409.53" y="206.32" width="6.38" height="5.94" fill="#89d548" shape-rendering="crispEdges"/>
<rect x="1415.9" y="206.32" width="6.38" height="5.94" fill="#bade28" shape-rendering="crispEdges"/>
<rect x="1358.5" y="212.26" width="6.38" height="5.94" fill="#423f85" shape-rendering="crispEdges"/>
<rect x="1364.88" y="212.26" width="6.38" height="5.94" fill="#3a548c" shape-rendering="crispEdges"/>
<rect x="1371.25" y="212.26" width="6.38" height="5.94" fill="#31678e" shape-rendering="crispEdges"/>
<rect x="1377.63" y="212.26" width="6.38" height="5.94" fill="#29798e" shape-rendering="crispEdges"/>
<rect x="1384.01" y="212.26" width="6.38" height="5.94" fill="#228b8d" shape-rendering="crispEdges"/>
<rect x="1390.39" y="212.26" width="6.38" height="5.94" fill="#1e9d89" shape-rendering="crispEdges"/>
<rect x="1396.77" y="212.26" width="6.38" height="5.94" fill="#27ad81" shape-rendering="crispEdges"/>
<rect x="1403.15" y="212.26" width="6.38" height="5.94" fill="#42be71" shape-rendering="crispEdges"/>
<rect x="1409.53" y="212.26" width="6.38" height="5.94" fill="#69cd5b" shape-rendering="crispEdges"/>
<rect x="1415.9" y="212.26" width="6.38" height="5.94" fill="#98d83e" shape-rendering="crispEdges"/>
<rect x="1422.28" y="212.26" width="6.38" height="5.94" fill="#c2df23" shape-rendering="crispEdges"/>
<rect x="1364.88" y="218.2" width="6.38" height="5.94" fill="#3e4a89" shape-rendering="crispEdges"/>
<rect x="1371.25" y="218.2" width="6.38" height="5.94" fill="#355e8d" shape-rendering="crispEdges"/>
<rect x="1377.63" y="218.2" width="6.38" height="5.94" fill="#2d708e" shape-rendering="crispEdges"/>
<rect x="1384.01" y="218.2" width="6.38" height="5.94" fill="#26818e" shape-rendering="crispEdges"/>
<rect x="1390.39" y="218.2" width="6.38" height="5.94" fill="#20928c" shape-rendering="crispEdges"/>
<rect x="1396.77" y="218.2" width="6.38" height="5.94" fill="#20a386" shape-rendering="crispEdges"/>
<rect x="1403.15" y="218.2" width="6.38" height="5.94" fill="#2fb47c" shape-rendering="crispEdges"/>
<rect x="1409.53" y="218.2" width="6.38" height="5.94" fill="#4ec36b" shape-rendering="crispEdges"/>
<rect x="1415.9" y="218.2" width="6.38" height="5.94" fill="#75d054" shape-rendering="crispEdges"/>
<rect x="1422.28" y="218.2" width="6.38" height="5.94" fill="#a2da37" shape-rendering="crispEdges"/>
<rect x="1364.88" y="224.14" width="6.38" height="5.94" fill="#424086" shape-rendering="crispEdges"/>
<rect x="1371.25" y="224.14" width="6.38" height="5.94" fill="#3a548c" shape-rendering="crispEdges"/>
<rect x="1377.63" y="224.14" width="6.38" height="5.94" fill="#31668e" shape-rendering="crispEdges"/>
<rect x="1384.01" y="224.14" width="6.38" height="5.94" fill="#2a778e" shape-rendering="crispEdges"/>
<rect x="1390.39" y="224.14" width="6.38" height="5.94" fill="#24878e" shape-rendering="crispEdges"/>
<rect x="1396.77" y="224.14" width="6.38" height="5.94" fill="#1f978b" shape-rendering="crispEdges"/>
<rect x="1403.15" y="224.14" width="6.38" height="5.94" fill="#22a884" shape-rendering="crispEdges"/>
<rect x="1409.53" y="224.14" width="6.38" height="5.94" fill="#35b779" shape-rendering="crispEdges"/>
<rect x="1415.9" y="224.14" width="6.38" height="5.94" fill="#56c667" shape-rendering="crispEdges"/>
<rect x="1422.28" y="224.14" width="6.38" height="5.94" fill="#7cd250" shape-rendering="crispEdges"/>
<rect x="1428.66" y="224.14" width="6.38" height="5.94" fill="#a8db34" shape-rendering="crispEdges"/>
<rect x="1371.25" y="230.08" width="6.38" height="5.94" fill="#3e4989" shape-rendering="crispEdges"/>
<rect x="1377.63" y="230.08" width="6.38" height="5.94" fill="#365c8d" shape-rendering="crispEdges"/>
<rect x="1384.01" y="230.08" width="6.38" height="5.94" fill="#2e6d8e" shape-rendering="crispEdges"/>
<rect x="1390.39" y="230.08" width="6.38" height="5.94" fill="#287d8e" shape-rendering="crispEdges"/>
<rect x="1396.77" y="230.08" width="6.38" height="5.94" fill="#228c8d" shape-rendering="crispEdges"/>
<rect x="1403.15" y="230.08" width="6.38" height="5.94" fill="#1e9c89" shape-rendering="crispEdges"/>
<rect x="1409.53" y="230.08" width="6.38" height="5.94" fill="#25ac82" shape-rendering="crispEdges"/>
<rect x="1415.9" y="230.08" width="6.38" height="5.94" fill="#3bbb75" shape-rendering="crispEdges"/>
<rect x="1422.28" y="230.08" width="6.38" height="5.94" fill="#5cc863" shape-rendering="crispEdges"/>
<rect x="1428.66" y="230.08" width="6.38" height="5.94" fill="#84d44b" shape-rendering="crispEdges"/>
<rect x="1435.04" y="230.08" width="6.38" height="5.94" fill="#a2da37" shape-rendering="crispEdges"/>
<rect x="1371.25" y="236.02" width="6.38" height="5.94" fill="#423f85" shape-rendering="crispEdges"/>
<rect x="1377.63" y="236.02" width="6.38" height="5.94" fill="#3b528b" shape-rendering="crispEdges"/>
<rect x="1384.01" y="236.02" width="6.38" height="5.94" fill="#33638d" shape-rendering="crispEdges"/>
<rect x="1390.39" y="236.02" width="6.38" height="5.94" fill="#2c728e" shape-rendering="crispEdges"/>
<rect x="1396.77" y="236.02" width="6.38" height="5.94" fill="#26828e" shape-rendering="crispEdges"/>
<rect x="1403.15" y="236.02" width="6.38" height="5.94" fill="#21918c" shape-rendering="crispEdges"/>
<rect x="1409.53" y="236.02" width="6.38" height="5.94" fill="#1fa188" shape-rendering="crispEdges"/>
<rect x="1415.9" y="236.02" width="6.38" height="5.94" fill="#29af7f" shape-rendering="crispEdges"/>
<rect x="1422.28" y="236.02" width="6.38" height="5.94" fill="#40bd72" shape-rendering="crispEdges"/>
<rect x="1428.66" y="236.02" width="6.38" height="5.94" fill="#60ca60" shape-rendering="crispEdges"/>
<rect x="1435.04" y="236.02" width="6.38" height="5.94" fill="#89d548" shape-rendering="crispEdges"/>
<rect x="1377.63" y="241.96" width="6.38" height="5.94" fill="#3f4889" shape-rendering="crispEdges"/>
<rect x="1384.01" y="241.96" width="6.38" height="5.94" fill="#38598c" shape-rendering="crispEdges"/>
<rect x="1390.39" y="241.96" width="6.38" height="5.94" fill="#30698e" shape-rendering="crispEdges"/>
<rect x="1396.77" y="241.96" width="6.38" height="5.94" fill="#2a788e" shape-rendering="crispEdges"/>
<rect x="1403.15" y="241.96" width="6.38" height="5.94" fill="#24868e" shape-rendering="crispEdges"/>
<rect x="1409.53" y="241.96" width="6.38" height="5.94" fill="#1f958b" shape-rendering="crispEdges"/>
<rect x="1415.9" y="241.96" width="6.38" height="5.94" fill="#20a386" shape-rendering="crispEdges"/>
<rect x="1422.28" y="241.96" width="6.38" height="5.94" fill="#2db27d" shape-rendering="crispEdges"/>
<rect x="1428.66" y="241.96" width="6.38" height="5.94" fill="#46c06f" shape-rendering="crispEdges"/>
<rect x="1435.04" y="241.96" width="6.38" height="5.94" fill="#65cb5e" shape-rendering="crispEdges"/>
<rect x="1441.42" y="241.96" width="6.38" height="5.94" fill="#8bd646" shape-rendering="crispEdges"/>
<rect x="1377.63" y="247.91" width="6.38" height="5.94" fill="#433d84" shape-rendering="crispEdges"/>
<rect x="1384.01" y="247.91" width="6.38" height="5.94" fill="#3d4e8a" shape-rendering="crispEdges"/>
<rect x="1390.39" y="247.91" width="6.38" height="5.94" fill="#365d8d" shape-rendering="crispEdges"/>
<rect x="1396.77" y="247.91" width="6.38" height="5.94" fill="#2f6c8e" shape-rendering="crispEdges"/>
<rect x="1403.15" y="247.91" width="6.38" height="5.94" fill="#297a8e" shape-rendering="crispEdges"/>
<rect x="1409.53" y="247.91" width="6.38" height="5.94" fill="#23888e" shape-rendering="crispEdges"/>
<rect x="1415.9" y="247.91" width="6.38" height="5.94" fill="#1f968b" shape-rendering="crispEdges"/>
<rect x="1422.28" y="247.91" width="6.38" height="5.94" fill="#20a386" shape-rendering="crispEdges"/>
<rect x="1428.66" y="247.91" width="6.38" height="5.94" fill="#2cb17e" shape-rendering="crispEdges"/>
<rect x="1435.04" y="247.91" width="6.38" height="5.94" fill="#42be71" shape-rendering="crispEdges"/>
<rect x="1441.42" y="247.91" width="6.38" height="5.94" fill="#60ca60" shape-rendering="crispEdges"/>
<rect x="1447.8" y="247.91" width="6.38" height="5.94" fill="#81d34d" shape-rendering="crispEdges"/>
<rect x="1384.01" y="253.85" width="6.38" height="5.94" fill="#424186" shape-rendering="crispEdges"/>
<rect x="1390.39" y="253.85" width="6.38" height="5.94" fill="#3b518b" shape-rendering="crispEdges"/>
<rect x="1396.77" y="253.85" width="6.38" height="5.94" fill="#34608d" shape-rendering="crispEdges"/>
<rect x="1403.15" y="253.85" width="6.38" height="5.94" fill="#2e6e8e" shape-rendering="crispEdges"/>
<rect x="1409.53" y="253.85" width="6.38" height="5.94" fill="#297b8e" shape-rendering="crispEdges"/>
<rect x="1415.9" y="253.85" width="6.38" height="5.94" fill="#23888e" shape-rendering="crispEdges"/>
<rect x="1422.28" y="253.85" width="6.38" height="5.94" fill="#1f958b" shape-rendering="crispEdges"/>
<rect x="1428.66" y="253.85" width="6.38" height="5.94" fill="#1fa287" shape-rendering="crispEdges"/>
<rect x="1435.04" y="253.85" width="6.38" height="5.94" fill="#2ab07f" shape-rendering="crispEdges"/>
<rect x="1441.42" y="253.85" width="6.38" height="5.94" fill="#3fbc73" shape-rendering="crispEdges"/>
<rect x="1447.8" y="253.85" width="6.38" height="5.94" fill="#5ac864" shape-rendering="crispEdges"/>
<rect x="1454.17" y="253.85" width="6.38" height="5.94" fill="#7ad151" shape-rendering="crispEdges"/>
<rect x="1390.39" y="259.79" width="6.38" height="5.94" fill="#424186" shape-rendering="crispEdges"/>
<rect x="1396.77" y="259.79" width="6.38" height="5.94" fill="#3b518b" shape-rendering="crispEdges"/>
<rect x="1403.15" y="259.79" width="6.38" height="5.94" fill="#34608d" shape-rendering="crispEdges"/>
<rect x="1409.53" y="259.79" width="6.38" height="5.94" fill="#2e6e8e" shape-rendering="crispEdges"/>
<rect x="1415.9" y="259.79" width="6.38" height="5.94" fill="#297b8e" shape-rendering="crispEdges"/>
<rect x="1422.28" y="259.79" width="6.38" height="5.94" fill="#23888e" shape-rendering="crispEdges"/>
<rect x="1428.66" y="259.79" width="6.38" height="5.94" fill="#1f958b" shape-rendering="crispEdges"/>
<rect x="1435.04" y="259.79" width="6.38" height="5.94" fill="#1fa287" shape-rendering="crispEdges"/>
<rect x="1441.42" y="259.79" width="6.38" height="5.94" fill="#29af7f" shape-rendering="crispEdges"/>
<rect x="1447.8" y="259.79" width="6.38" height="5.94" fill="#3dbc74" shape-rendering="crispEdges"/>
<rect x="1454.17" y="259.79" width="6.38" height="5.94" fill="#58c765" shape-rendering="crispEdges"/>
<rect x="1460.55" y="259.79" width="6.38" height="5.94" fill="#77d153" shape-rendering="crispEdges"/>
<rect x="1396.77" y="265.73" width="6.38" height="5.94" fill="#424086" shape-rendering="crispEdges"/>
<rect x="1403.15" y="265.73" width="6.38" height="5.94" fill="#3c4f8a" shape-rendering="crispEdges"/>
<rect x="1409.53" y="265.73" width="6.38" height="5.94" fill="#365d8d" shape-rendering="crispEdges"/>
<rect x="1415.9" y="265.73" width="6.38" height="5.94" fill="#306a8e" shape-rendering="crispEdges"/>
<rect x="1422.28" y="265.73" width="6.38" height="5.94" fill="#2b758e" shape-rendering="crispEdges"/>
<rect x="1428.66" y="265.73" width="6.38" height="5.94" fill="#26828e" shape-rendering="crispEdges"/>
<rect x="1435.04" y="265.73" width="6.38" height="5.94" fill="#218e8d" shape-rendering="crispEdges"/>
<rect x="1441.42" y="265.73" width="6.38" height="5.94" fill="#1f9a8a" shape-rendering="crispEdges"/>
<rect x="1447.8" y="265.73" width="6.38" height="5.94" fill="#21a685" shape-rendering="crispEdges"/>
<rect x="1454.17" y="265.73" width="6.38" height="5.94" fill="#2db27d" shape-rendering="crispEdges"/>
<rect x="1460.55" y="265.73" width="6.38" height="5.94" fill="#40bd72" shape-rendering="crispEdges"/>
<rect x="1466.93" y="265.73" width="6.38" height="5.94" fill="#5ac864" shape-rendering="crispEdges"/>
<rect x="1473.31" y="265.73" width="6.38" height="5.94" fill="#77d153" shape-rendering="crispEdges"/>
<rect x="1403.15" y="271.67" width="6.38" height="5.94" fill="#423f85" shape-rendering="crispEdges"/>
<rect x="1409.53" y="271.67" width="6.38" height="5.94" fill="#3d4e8a" shape-rendering="crispEdges"/>
<rect x="1415.9" y="271.67" width="6.38" height="5.94" fill="#365c8d" shape-rendering="crispEdges"/>
<rect x="1422.28" y="271.67" width="6.38" height="5.94" fill="#30698e" shape-rendering="crispEdges"/>
<rect x="1428.66" y="271.67" width="6.38" height="5.94" fill="#2b758e" shape-rendering="crispEdges"/>
<rect x="1435.04" y="271.67" width="6.38" height="5.94" fill="#26828e" shape-rendering="crispEdges"/>
<rect x="1441.42" y="271.67" width="6.38" height="5.94" fill="#218e8d" shape-rendering="crispEdges"/>
<rect x="1447.8" y="271.67" width="6.38" height="5.94" fill="#1f9a8a" shape-rendering="crispEdges"/>
<rect x="1454.17" y="271.67" width="6.38" height="5.94" fill="#21a685" shape-rendering="crispEdges"/>
<rect x="1460.55" y="271.67" width="6.38" height="5.94" fill="#2db27d" shape-rendering="crispEdges"/>
<rect x="1466.93" y="271.67" width="6.38" height="5.94" fill="#40bd72" shape-rendering="crispEdges"/>
<rect x="1473.31" y="271.67" width="6.38" height="5.94" fill="#5ac864" shape-rendering="crispEdges"/>
<rect x="1479.69" y="271.67" width="6.38" height="5.94" fill="#77d153" shape-rendering="crispEdges"/>
<rect x="1409.53" y="277.61" width="6.38" height="5.94" fill="#433e85" shape-rendering="crispEdges"/>
<rect x="1415.9" y="277.61" width="6.38" height="5.94" fill="#3e4c8a" shape-rendering="crispEdges"/>
<rect x="1422.28" y="277.61" width="6.38" height="5.94" fill="#38598c" shape-rendering="crispEdges"/>
<rect x="1428.66" y="277.61" width="6.38" height="5.94" fill="#32658e" shape-rendering="crispEdges"/>
<rect x="1435.04" y="277.61" width="6.38" height="5.94" fill="#2d718e" shape-rendering="crispEdges"/>
<rect x="1441.42" y="277.61" width="6.38" height="5.94" fill="#287c8e" shape-rendering="crispEdges"/>
<rect x="1447.8" y="277.61" width="6.38" height="5.94" fill="#24878e" shape-rendering="crispEdges"/>
<rect x="1454.17" y="277.61" width="6.38" height="5.94" fill="#20928c" shape-rendering="crispEdges"/>
<rect x="1460.55" y="277.61" width="6.38" height="5.94" fill="#1f9e89" shape-rendering="crispEdges"/>
<rect x="1466.93" y="277.61" width="6.38" height="5.94" fill="#23a983" shape-rendering="crispEdges"/>
<rect x="1473.31" y="277.61" width="6.38" height="5.94" fill="#2fb47c" shape-rendering="crispEdges"/>
<rect x="1479.69" y="277.61" width="6.38" height="5.94" fill="#42be71" shape-rendering="crispEdges"/>
<rect x="1486.07" y="277.61" width="6.38" height="5.94" fill="#5ac864" shape-rendering="crispEdges"/>
<rect x="1492.45" y="277.61" width="6.38" height="5.94" fill="#75d054" shape-rendering="crispEdges"/>
<rect x="1422.28" y="283.55" width="6.38" height="5.94" fill="#433e85" shape-rendering="crispEdges"/>
<rect x="1428.66" y="283.55" width="6.38" height="5.94" fill="#3e4a89" shape-rendering="crispEdges"/>
<rect x="1435.04" y="283.55" width="6.38" height="5.94" fill="#39568c" shape-rendering="crispEdges"/>
<rect x="1441.42" y="283.55" width="6.38" height="5.94" fill="#33628d" shape-rendering="crispEdges"/>
<rect x="1447.8" y="283.55" width="6.38" height="5.94" fill="#2e6d8e" shape-rendering="crispEdges"/>
<rect x="1454.17" y="283.55" width="6.38" height="5.94" fill="#2a788e" shape-rendering="crispEdges"/>
<rect x="1460.55" y="283.55" width="6.38" height="5.94" fill="#26828e" shape-rendering="crispEdges"/>
<rect x="1466.93" y="283.55" width="6.38" height="5.94" fill="#228d8d" shape-rendering="crispEdges"/>
<rect x="1473.31" y="283.55" width="6.38" height="5.94" fill="#1f978b" shape-rendering="crispEdges"/>
<rect x="1479.69" y="283.55" width="6.38" height="5.94" fill="#1fa187" shape-rendering="crispEdges"/>
<rect x="1486.07" y="283.55" width="6.38" height="5.94" fill="#26ad81" shape-rendering="crispEdges"/>
<rect x="1492.45" y="283.55" width="6.38" height="5.94" fill="#34b679" shape-rendering="crispEdges"/>
<rect x="1498.82" y="283.55" width="6.38" height="5.94" fill="#46c06f" shape-rendering="crispEdges"/>
<rect x="1505.2" y="283.55" width="6.38" height="5.94" fill="#5cc863" shape-rendering="crispEdges"/>
<rect x="1511.58" y="283.55" width="6.38" height="5.94" fill="#73d056" shape-rendering="crispEdges"/>
<rect x="1428.66" y="289.49" width="6.38" height="5.94" fill="#443b84" shape-rendering="crispEdges"/>
<rect x="1435.04" y="289.49" width="6.38" height="5.94" fill="#3f4788" shape-rendering="crispEdges"/>
<rect x="1441.42" y="289.49" width="6.38" height="5.94" fill="#3b528b" shape-rendering="crispEdges"/>
<rect x="1447.8" y="289.49" width="6.38" height="5.94" fill="#365d8d" shape-rendering="crispEdges"/>
<rect x="1454.17" y="289.49" width="6.38" height="5.94" fill="#31678e" shape-rendering="crispEdges"/>
<rect x="1460.55" y="289.49" width="6.38" height="5.94" fill="#2d718e" shape-rendering="crispEdges"/>
<rect x="1466.93" y="289.49" width="6.38" height="5.94" fill="#297a8e" shape-rendering="crispEdges"/>
<rect x="1473.31" y="289.49" width="6.38" height="5.94" fill="#25838e" shape-rendering="crispEdges"/>
<rect x="1479.69" y="289.49" width="6.38" height="5.94" fill="#228c8d" shape-rendering="crispEdges"/>
<rect x="1486.07" y="289.49" width="6.38" height="5.94" fill="#1f958b" shape-rendering="crispEdges"/>
<rect x="1492.45" y="289.49" width="6.38" height="5.94" fill="#1f9f88" shape-rendering="crispEdges"/>
<rect x="1498.82" y="289.49" width="6.38" height="5.94" fill="#22a884" shape-rendering="crispEdges"/>
<rect x="1505.2" y="289.49" width="6.38" height="5.94" fill="#2cb17e" shape-rendering="crispEdges"/>
<rect x="1511.58" y="289.49" width="6.38" height="5.94" fill="#3aba76" shape-rendering="crispEdges"/>
<rect x="1517.96" y="289.49" width="6.38" height="5.94" fill="#4cc26c" shape-rendering="crispEdges"/>
<rect x="1524.34" y="289.49" width="6.38" height="5.94" fill="#60ca60" shape-rendering="crispEdges"/>
<rect x="1530.72" y="289.49" width="6.38" height="5.94" fill="#73d056" shape-rendering="crispEdges"/>
<rect x="1447.8" y="295.44" width="6.38" height="5.94" fill="#443b84" shape-rendering="crispEdges"/>
<rect x="1454.17" y="295.44" width="6.38" height="5.94" fill="#404688" shape-rendering="crispEdges"/>
<rect x="1460.55" y="295.44" width="6.38" height="5.94" fill="#3c508b" shape-rendering="crispEdges"/>
<rect x="1466.93" y="295.44" width="6.38" height="5.94" fill="#375b8d" shape-rendering="crispEdges"/>
<rect x="1473.31" y="295.44" width="6.38" height="5.94" fill="#32648e" shape-rendering="crispEdges"/>
<rect x="1479.69" y="295.44" width="6.38" height="5.94" fill="#2e6d8e" shape-rendering="crispEdges"/>
<rect x="1486.07" y="295.44" width="6.38" height="5.94" fill="#2a768e" shape-rendering="crispEdges"/>
<rect x="1492.45" y="295.44" width="6.38" height="5.94" fill="#277f8e" shape-rendering="crispEdges"/>
<rect x="1498.82" y="295.44" width="6.38" height="5.94" fill="#24878e" shape-rendering="crispEdges"/>
<rect x="1505.2" y="295.44" width="6.38" height="5.94" fill="#21918c" shape-rendering="crispEdges"/>
<rect x="1511.58" y="295.44" width="6.38" height="5.94" fill="#1f998a" shape-rendering="crispEdges"/>
<rect x="1517.96" y="295.44" width="6.38" height="5.94" fill="#1fa187" shape-rendering="crispEdges"/>
<rect x="1524.34" y="295.44" width="6.38" height="5.94" fill="#25ab82" shape-rendering="crispEdges"/>
<rect x="1530.72" y="295.44" width="6.38" height="5.94" fill="#2eb37c" shape-rendering="crispEdges"/>
<rect x="1537.09" y="295.44" width="6.38" height="5.94" fill="#3bbb75" shape-rendering="crispEdges"/>
<rect x="1543.47" y="295.44" width="6.38" height="5.94" fill="#4cc26c" shape-rendering="crispEdges"/>
<rect x="1549.85" y="295.44" width="6.38" height="5.94" fill="#60ca60" shape-rendering="crispEdges"/>
<rect x="1556.23" y="295.44" width="6.38" height="5.94" fill="#70cf57" shape-rendering="crispEdges"/>
<rect x="1473.31" y="301.38" width="6.38" height="5.94" fill="#443a83" shape-rendering="crispEdges"/>
<rect x="1479.69" y="301.38" width="6.38" height="5.94" fill="#404588" shape-rendering="crispEdges"/>
<rect x="1486.07" y="301.38" width="6.38" height="5.94" fill="#3c4f8a" shape-rendering="crispEdges"/>
<rect x="1492.45" y="301.38" width="6.38" height="5.94" fill="#38598c" shape-rendering="crispEdges"/>
<rect x="1498.82" y="301.38" width="6.38" height="5.94" fill="#34618d" shape-rendering="crispEdges"/>
<rect x="1505.2" y="301.38" width="6.38" height="5.94" fill="#306a8e" shape-rendering="crispEdges"/>
<rect x="1511.58" y="301.38" width="6.38" height="5.94" fill="#2c728e" shape-rendering="crispEdges"/>
<rect x="1517.96" y="301.38" width="6.38" height="5.94" fill="#297b8e" shape-rendering="crispEdges"/>
<rect x="1524.34" y="301.38" width="6.38" height="5.94" fill="#25838e" shape-rendering="crispEdges"/>
<rect x="1530.72" y="301.38" width="6.38" height="5.94" fill="#228b8d" shape-rendering="crispEdges"/>
<rect x="1537.09" y="301.38" width="6.38" height="5.94" fill="#20938c" shape-rendering="crispEdges"/>
<rect x="1543.47" y="301.38" width="6.38" height="5.94" fill="#1e9c89" shape-rendering="crispEdges"/>
<rect x="1549.85" y="301.38" width="6.38" height="5.94" fill="#20a486" shape-rendering="crispEdges"/>
<rect x="1556.23" y="301.38" width="6.38" height="5.94" fill="#26ad81" shape-rendering="crispEdges"/>
<rect x="1562.61" y="301.38" width="6.38" height="5.94" fill="#31b57b" shape-rendering="crispEdges"/>
<rect x="1568.99" y="301.38" width="6.38" height="5.94" fill="#3dbc74" shape-rendering="crispEdges"/>
<rect x="1575.36" y="301.38" width="6.38" height="5.94" fill="#4ec36b" shape-rendering="crispEdges"/>
<rect x="1581.74" y="301.38" width="6.38" height="5.94" fill="#60ca60" shape-rendering="crispEdges"/>
<rect x="1588.12" y="301.38" width="6.38" height="5.94" fill="#70cf57" shape-rendering="crispEdges"/>
<rect x="1517.96" y="307.32" width="6.38" height="5.94" fill="#443a83" shape-rendering="crispEdges"/>
<rect x="1524.34" y="307.32" width="6.38" height="5.94" fill="#404688" shape-rendering="crispEdges"/>
<rect x="1530.72" y="307.32" width="6.38" height="5.94" fill="#3b518b" shape-rendering="crispEdges"/>
<rect x="1537.09" y="307.32" width="6.38" height="5.94" fill="#365c8d" shape-rendering="crispEdges"/>
<rect x="1543.47" y="307.32" width="6.38" height="5.94" fill="#31668e" shape-rendering="crispEdges"/>
<rect x="1549.85" y="307.32" width="6.38" height="5.94" fill="#2e6f8e" shape-rendering="crispEdges"/>
<rect x="1556.23" y="307.32" width="6.38" height="5.94" fill="#2a788e" shape-rendering="crispEdges"/>
<rect x="1562.61" y="307.32" width="6.38" height="5.94" fill="#26828e" shape-rendering="crispEdges"/>
<rect x="1568.99" y="307.32" width="6.38" height="5.94" fill="#228b8d" shape-rendering="crispEdges"/>
<rect x="1575.36" y="307.32" width="6.38" height="5.94" fill="#1f948c" shape-rendering="crispEdges"/>
<rect x="1581.74" y="307.32" width="6.38" height="5.94" fill="#1f9e89" shape-rendering="crispEdges"/>
<rect x="1588.12" y="307.32" width="6.38" height="5.94" fill="#21a685" shape-rendering="crispEdges"/>
<line x1="1295.17" y1="16.2" x2="1295.17" y2="319.2" stroke="#b0b0b0" stroke-opacity="0.5" stroke-width="1.7"/>
<line x1="1409.07" y1="16.2" x2="1409.07" y2="319.2" stroke="#b0b0b0" stroke-opacity="0.5" stroke-width="1.7"/>
<line x1="1522.97" y1="16.2" x2="1522.97" y2="319.2" stroke="#b0b0b0" stroke-opacity="0.5" stroke-width="1.7"/>
<line x1="1269.2" y1="244.2" x2="1594.5" y2="244.2" stroke="#b0b0b0" stroke-opacity="0.5" stroke-width="1.7"/>
<line x1="1269.2" y1="169.2" x2="1594.5" y2="169.2" stroke="#b0b0b0" stroke-opacity="0.5" stroke-width="1.7"/>
<line x1="1269.2" y1="94.2" x2="1594.5" y2="94.2" stroke="#b0b0b0" stroke-opacity="0.5" stroke-width="1.7"/>
<line x1="1269.2" y1="19.2" x2="1594.5" y2="19.2" stroke="#b0b0b0" stroke-opacity="0.5" stroke-width="1.7"/>
<rect x="1269.2" y="16.2" width="325.3" height="303" fill="none" stroke="#000" stroke-opacity="0.5" stroke-width="2"/>
<line x1="1295.17" y1="319.2" x2="1295.17" y2="323.2" stroke="#000" stroke-opacity="0.5" stroke-width="2"/>
<text x="1295.17" y="347.4" font-size="27.5" text-anchor="middle">25</text>
<line x1="1409.07" y1="319.2" x2="1409.07" y2="323.2" stroke="#000" stroke-opacity="0.5" stroke-width="2"/>
<text x="1409.07" y="347.4" font-size="27.5" text-anchor="middle">50</text>
<line x1="1522.97" y1="319.2" x2="1522.97" y2="323.2" stroke="#000" stroke-opacity="0.5" stroke-width="2"/>
<text x="1522.97" y="347.4" font-size="27.5" text-anchor="middle">75</text>
<line x1="1265.2" y1="244.2" x2="1269.2" y2="244.2" stroke="#000" stroke-opacity="0.5" stroke-width="2"/>
<text x="1260.7" y="253.9" font-size="27.5" text-anchor="end">0.25</text>
<line x1="1265.2" y1="169.2" x2="1269.2" y2="169.2" stroke="#000" stroke-opacity="0.5" stroke-width="2"/>
<text x="1260.7" y="178.9" font-size="27.5" text-anchor="end">0.50</text>
<line x1="1265.2" y1="94.2" x2="1269.2" y2="94.2" stroke="#000" stroke-opacity="0.5" stroke-width="2"/>
<text x="1260.7" y="103.9" font-size="27.5" text-anchor="end">0.75</text>
<line x1="1265.2" y1="19.2" x2="1269.2" y2="19.2" stroke="#000" stroke-opacity="0.5" stroke-width="2"/>
<text x="1260.7" y="28.9" font-size="27.5" text-anchor="end">1.00</text>
<text x="1431.85" y="376.7" font-size="27.5" text-anchor="middle">Gain current (mA)</text>
<text transform="translate(1201,168) rotate(-90)" font-size="27.5" text-anchor="middle">Reflectivity (-)</text>
<text x="1578.3" y="57.7" font-size="37.5" fill="#fff" text-anchor="end">(e)</text>
<text x="1578.5" y="104" font-size="37.5" fill="#fff" text-anchor="end">V<tspan font-size="25" dy="6">rb</tspan><tspan dy="-6">=0.14 V</tspan></text>
<defs><linearGradient id="ge" x1="0" y1="0" x2="0" y2="1"><stop offset="0" stop-color="#fde725"/><stop offset="0.05" stop-color="#dfe318"/><stop offset="0.1" stop-color="#bddf26"/><stop offset="0.15" stop-color="#9bd93c"/><stop offset="0.2" stop-color="#7ad151"/><stop offset="0.25" stop-color="#5ec962"/><stop offset="0.3" stop-color="#44bf70"/><stop offset="0.35" stop-color="#2fb47c"/><stop offset="0.4" stop-color="#22a884"/><stop offset="0.45" stop-color="#1e9c89"/><stop offset="0.5" stop-color="#21918c"/><stop offset="0.55" stop-color="#25848e"/><stop offset="0.6" stop-color="#2a788e"/><stop offset="0.65" stop-color="#2f6c8e"/><stop offset="0.7" stop-color="#355f8d"/><stop offset="0.75" stop-color="#3b528b"/><stop offset="0.8" stop-color="#414487"/><stop offset="0.85" stop-color="#463480"/><stop offset="0.9" stop-color="#482475"/><stop offset="0.95" stop-color="#471365"/><stop offset="1" stop-color="#440154"/></linearGradient></defs>
<rect x="1613.9" y="16.6" width="15.4" height="302.6" fill="url(#ge)" stroke="#000" stroke-opacity="0.5" stroke-width="1.2"/>
<line x1="1629.3" y1="319.2" x2="1633.3" y2="319.2" stroke="#000" stroke-opacity="0.5" stroke-width="2"/>
<text x="1637" y="328.9" font-size="27.5">0.00</text>
<line x1="1629.3" y1="257.06" x2="1633.3" y2="257.06" stroke="#000" stroke-opacity="0.5" stroke-width="2"/>
<text x="1637" y="266.76" font-size="27.5">0.01</text>
<line x1="1629.3" y1="194.93" x2="1633.3" y2="194.93" stroke="#000" stroke-opacity="0.5" stroke-width="2"/>
<text x="1637" y="204.63" font-size="27.5">0.02</text>
<line x1="1629.3" y1="132.79" x2="1633.3" y2="132.79" stroke="#000" stroke-opacity="0.5" stroke-width="2"/>
<text x="1637" y="142.49" font-size="27.5">0.03</text>
<line x1="1629.3" y1="70.66" x2="1633.3" y2="70.66" stroke="#000" stroke-opacity="0.5" stroke-width="2"/>
<text x="1637" y="80.36" font-size="27.5">0.04</text>
<text transform="translate(1710.2,167.9) rotate(-90)" font-size="27.5" text-anchor="middle">Avg. power (mW)</text>
<rect x="1269.2" y="467.7" width="325.3" height="303" fill="#440154"/>
<rect x="1345.74" y="467.7" width="6.38" height="5.94" fill="#287c8e" shape-rendering="crispEdges"/>
<rect x="1352.12" y="467.7" width="6.38" height="5.94" fill="#25ac82" shape-rendering="crispEdges"/>
<rect x="1358.5" y="467.7" width="6.38" height="5.94" fill="#81d34d" shape-rendering="crispEdges"/>
<rect x="1364.88" y="467.7" width="6.38" height="5.94" fill="#fde725" shape-rendering="crispEdges"/>
<rect x="1345.74" y="473.64" width="6.38" height="5.94" fill="#2c728e" shape-rendering="crispEdges"/>
<rect x="1352.12" y="473.64" width="6.38" height="5.94" fill="#1fa088" shape-rendering="crispEdges"/>
<rect x="1358.5" y="473.64" width="6.38" height="5.94" fill="#5ec962" shape-rendering="crispEdges"/>
<rect x="1364.88" y="473.64" width="6.38" height="5.94" fill="#d5e21a" shape-rendering="crispEdges"/>
<rect x="1345.74" y="479.58" width="6.38" height="5.94" fill="#306a8e" shape-rendering="crispEdges"/>
<rect x="1352.12" y="479.58" width="6.38" height="5.94" fill="#1f948c" shape-rendering="crispEdges"/>
<rect x="1358.5" y="479.58" width="6.38" height="5.94" fill="#40bd72" shape-rendering="crispEdges"/>
<rect x="1364.88" y="479.58" width="6.38" height="5.94" fill="#aadc32" shape-rendering="crispEdges"/>
<rect x="1345.74" y="485.52" width="6.38" height="5.94" fill="#33628d" shape-rendering="crispEdges"/>
<rect x="1352.12" y="485.52" width="6.38" height="5.94" fill="#228b8d" shape-rendering="crispEdges"/>
<rect x="1358.5" y="485.52" width="6.38" height="5.94" fill="#2eb37c" shape-rendering="crispEdges"/>
<rect x="1364.88" y="485.52" width="6.38" height="5.94" fill="#84d44b" shape-rendering="crispEdges"/>
<rect x="1371.25" y="485.52" width="6.38" height="5.94" fill="#f4e61e" shape-rendering="crispEdges"/>
<rect x="1345.74" y="491.46" width="6.38" height="5.94" fill="#375a8c" shape-rendering="crispEdges"/>
<rect x="1352.12" y="491.46" width="6.38" height="5.94" fill="#26828e" shape-rendering="crispEdges"/>
<rect x="1358.5" y="491.46" width="6.38" height="5.94" fill="#22a785" shape-rendering="crispEdges"/>
<rect x="1364.88" y="491.46" width="6.38" height="5.94" fill="#60ca60" shape-rendering="crispEdges"/>
<rect x="1371.25" y="491.46" width="6.38" height="5.94" fill="#c5e021" shape-rendering="crispEdges"/>
<rect x="1345.74" y="497.41" width="6.38" height="5.94" fill="#3b528b" shape-rendering="crispEdges"/>
<rect x="1352.12" y="497.41" width="6.38" height="5.94" fill="#2a788e" shape-rendering="crispEdges"/>
<rect x="1358.5" y="497.41" width="6.38" height="5.94" fill="#1e9c89" shape-rendering="crispEdges"/>
<rect x="1364.88" y="497.41" width="6.38" height="5.94" fill="#42be71" shape-rendering="crispEdges"/>
<rect x="1371.25" y="497.41" width="6.38" height="5.94" fill="#98d83e" shape-rendering="crispEdges"/>
<rect x="1377.63" y="497.41" width="6.38" height="5.94" fill="#fbe723" shape-rendering="crispEdges"/>
<rect x="1345.74" y="503.35" width="6.38" height="5.94" fill="#3e4c8a" shape-rendering="crispEdges"/>
<rect x="1352.12" y="503.35" width="6.38" height="5.94" fill="#2d718e" shape-rendering="crispEdges"/>
<rect x="1358.5" y="503.35" width="6.38" height="5.94" fill="#20928c" shape-rendering="crispEdges"/>
<rect x="1364.88" y="503.35" width="6.38" height="5.94" fill="#2fb47c" shape-rendering="crispEdges"/>
<rect x="1371.25" y="503.35" width="6.38" height="5.94" fill="#75d054" shape-rendering="crispEdges"/>
<rect x="1377.63" y="503.35" width="6.38" height="5.94" fill="#d2e21b" shape-rendering="crispEdges"/>
<rect x="1352.12" y="509.29" width="6.38" height="5.94" fill="#2f6b8e" shape-rendering="crispEdges"/>
<rect x="1358.5" y="509.29" width="6.38" height="5.94" fill="#228b8d" shape-rendering="crispEdges"/>
<rect x="1364.88" y="509.29" width="6.38" height="5.94" fill="#25ac82" shape-rendering="crispEdges"/>
<rect x="1371.25" y="509.29" width="6.38" height="5.94" fill="#5cc863" shape-rendering="crispEdges"/>
<rect x="1377.63" y="509.29" width="6.38" height="5.94" fill="#b2dd2d" shape-rendering="crispEdges"/>
<rect x="1384.01" y="509.29" width="6.38" height="5.94" fill="#fde725" shape-rendering="crispEdges"/>
<rect x="1352.12" y="515.23" width="6.38" height="5.94" fill="#32648e" shape-rendering="crispEdges"/>
<rect x="1358.5" y="515.23" width="6.38" height="5.94" fill="#25838e" shape-rendering="crispEdges"/>
<rect x="1364.88" y="515.23" width="6.38" height="5.94" fill="#1fa287" shape-rendering="crispEdges"/>
<rect x="1371.25" y="515.23" width="6.38" height="5.94" fill="#48c16e" shape-rendering="crispEdges"/>
<rect x="1377.63" y="515.23" width="6.38" height="5.94" fill="#93d741" shape-rendering="crispEdges"/>
<rect x="1384.01" y="515.23" width="6.38" height="5.94" fill="#eae51a" shape-rendering="crispEdges"/>
<rect x="1352.12" y="521.17" width="6.38" height="5.94" fill="#355e8d" shape-rendering="crispEdges"/>
<rect x="1358.5" y="521.17" width="6.38" height="5.94" fill="#287d8e" shape-rendering="crispEdges"/>
<rect x="1364.88" y="521.17" width="6.38" height="5.94" fill="#1e9b8a" shape-rendering="crispEdges"/>
<rect x="1371.25" y="521.17" width="6.38" height="5.94" fill="#37b878" shape-rendering="crispEdges"/>
<rect x="1377.63" y="521.17" width="6.38" height="5.94" fill="#77d153" shape-rendering="crispEdges"/>
<rect x="1384.01" y="521.17" width="6.38" height="5.94" fill="#cae11f" shape-rendering="crispEdges"/>
<rect x="1352.12" y="527.11" width="6.38" height="5.94" fill="#38598c" shape-rendering="crispEdges"/>
<rect x="1358.5" y="527.11" width="6.38" height="5.94" fill="#2a768e" shape-rendering="crispEdges"/>
<rect x="1364.88" y="527.11" width="6.38" height="5.94" fill="#20938c" shape-rendering="crispEdges"/>
<rect x="1371.25" y="527.11" width="6.38" height="5.94" fill="#2ab07f" shape-rendering="crispEdges"/>
<rect x="1377.63" y="527.11" width="6.38" height="5.94" fill="#60ca60" shape-rendering="crispEdges"/>
<rect x="1384.01" y="527.11" width="6.38" height="5.94" fill="#addc30" shape-rendering="crispEdges"/>
<rect x="1390.39" y="527.11" width="6.38" height="5.94" fill="#fbe723" shape-rendering="crispEdges"/>
<rect x="1352.12" y="533.05" width="6.38" height="5.94" fill="#3b528b" shape-rendering="crispEdges"/>
<rect x="1358.5" y="533.05" width="6.38" height="5.94" fill="#2d708e" shape-rendering="crispEdges"/>
<rect x="1364.88" y="533.05" width="6.38" height="5.94" fill="#228c8d" shape-rendering="crispEdges"/>
<rect x="1371.25" y="533.05" width="6.38" height="5.94" fill="#22a884" shape-rendering="crispEdges"/>
<rect x="1377.63" y="533.05" width="6.38" height="5.94" fill="#4ac16d" shape-rendering="crispEdges"/>
<rect x="1384.01" y="533.05" width="6.38" height="5.94" fill="#8ed645" shape-rendering="crispEdges"/>
<rect x="1390.39" y="533.05" width="6.38" height="5.94" fill="#dae319" shape-rendering="crispEdges"/>
<rect x="1352.12" y="538.99" width="6.38" height="5.94" fill="#3e4c8a" shape-rendering="crispEdges"/>
<rect x="1358.5" y="538.99" width="6.38" height="5.94" fill="#306a8e" shape-rendering="crispEdges"/>
<rect x="1364.88" y="538.99" width="6.38" height="5.94" fill="#25848e" shape-rendering="crispEdges"/>
<rect x="1371.25" y="538.99" width="6.38" height="5.94" fill="#1f9f88" shape-rendering="crispEdges"/>
<rect x="1377.63" y="538.99" width="6.38" height="5.94" fill="#38b977" shape-rendering="crispEdges"/>
<rect x="1384.01" y="538.99" width="6.38" height="5.94" fill="#70cf57" shape-rendering="crispEdges"/>
<rect x="1390.39" y="538.99" width="6.38" height="5.94" fill="#b8de29" shape-rendering="crispEdges"/>
<rect x="1396.77" y="538.99" width="6.38" height="5.94" fill="#fde725" shape-rendering="crispEdges"/>
<rect x="1352.12" y="544.94" width="6.38" height="5.94" fill="#404688" shape-rendering="crispEdges"/>
<rect x="1358.5" y="544.94" width="6.38" height="5.94" fill="#33638d" shape-rendering="crispEdges"/>
<rect x="1364.88" y="544.94" width="6.38" height="5.94" fill="#287d8e" shape-rendering="crispEdges"/>
<rect x="1371.25" y="544.94" width="6.38" height="5.94" fill="#1f968b" shape-rendering="crispEdges"/>
<rect x="1377.63" y="544.94" width="6.38" height="5.94" fill="#29af7f" shape-rendering="crispEdges"/>
<rect x="1384.01" y="544.94" width="6.38" height="5.94" fill="#54c568" shape-rendering="crispEdges"/>
<rect x="1390.39" y="544.94" width="6.38" height="5.94" fill="#93d741" shape-rendering="crispEdges"/>
<rect x="1396.77" y="544.94" width="6.38" height="5.94" fill="#dae319" shape-rendering="crispEdges"/>
<rect x="1358.5" y="550.88" width="6.38" height="5.94" fill="#365d8d" shape-rendering="crispEdges"/>
<rect x="1364.88" y="550.88" width="6.38" height="5.94" fill="#2b758e" shape-rendering="crispEdges"/>
<rect x="1371.25" y="550.88" width="6.38" height="5.94" fill="#228d8d" shape-rendering="crispEdges"/>
<rect x="1377.63" y="550.88" width="6.38" height="5.94" fill="#21a585" shape-rendering="crispEdges"/>
<rect x="1384.01" y="550.88" width="6.38" height="5.94" fill="#3dbc74" shape-rendering="crispEdges"/>
<rect x="1390.39" y="550.88" width="6.38" height="5.94" fill="#70cf57" shape-rendering="crispEdges"/>
<rect x="1396.77" y="550.88" width="6.38" height="5.94" fill="#b2dd2d" shape-rendering="crispEdges"/>
<rect x="1403.15" y="550.88" width="6.38" height="5.94" fill="#f4e61e" shape-rendering="crispEdges"/>
<rect x="1358.5" y="556.82" width="6.38" height="5.94" fill="#39568c" shape-rendering="crispEdges"/>
<rect x="1364.88" y="556.82" width="6.38" height="5.94" fill="#2e6f8e" shape-rendering="crispEdges"/>
<rect x="1371.25" y="556.82" width="6.38" height="5.94" fill="#25858e" shape-rendering="crispEdges"/>
<rect x="1377.63" y="556.82" width="6.38" height="5.94" fill="#1e9c89" shape-rendering="crispEdges"/>
<rect x="1384.01" y="556.82" width="6.38" height="5.94" fill="#2db27d" shape-rendering="crispEdges"/>
<rect x="1390.39" y="556.82" width="6.38" height="5.94" fill="#56c667" shape-rendering="crispEdges"/>
<rect x="1396.77" y="556.82" width="6.38" height="5.94" fill="#8ed645" shape-rendering="crispEdges"/>
<rect x="1403.15" y="556.82" width="6.38" height="5.94" fill="#cde11d" shape-rendering="crispEdges"/>
<rect x="1409.53" y="556.82" width="6.38" height="5.94" fill="#fde725" shape-rendering="crispEdges"/>
<rect x="1358.5" y="562.76" width="6.38" height="5.94" fill="#3b518b" shape-rendering="crispEdges"/>
<rect x="1364.88" y="562.76" width="6.38" height="5.94" fill="#30698e" shape-rendering="crispEdges"/>
<rect x="1371.25" y="562.76" width="6.38" height="5.94" fill="#277f8e" shape-rendering="crispEdges"/>
<rect x="1377.63" y="562.76" width="6.38" height="5.94" fill="#1f948c" shape-rendering="crispEdges"/>
<rect x="1384.01" y="562.76" width="6.38" height="5.94" fill="#24aa83" shape-rendering="crispEdges"/>
<rect x="1390.39" y="562.76" width="6.38" height="5.94" fill="#42be71" shape-rendering="crispEdges"/>
<rect x="1396.77" y="562.76" width="6.38" height="5.94" fill="#73d056" shape-rendering="crispEdges"/>
<rect x="1403.15" y="562.76" width="6.38" height="5.94" fill="#addc30" shape-rendering="crispEdges"/>
<rect x="1409.53" y="562.76" width="6.38" height="5.94" fill="#e7e419" shape-rendering="crispEdges"/>
<rect x="1358.5" y="568.7" width="6.38" height="5.94" fill="#3e4c8a" shape-rendering="crispEdges"/>
<rect x="1364.88" y="568.7" width="6.38" height="5.94" fill="#33638d" shape-rendering="crispEdges"/>
<rect x="1371.25" y="568.7" width="6.38" height="5.94" fill="#29798e" shape-rendering="crispEdges"/>
<rect x="1377.63" y="568.7" width="6.38" height="5.94" fill="#218e8d" shape-rendering="crispEdges"/>
<rect x="1384.01" y="568.7" width="6.38" height="5.94" fill="#1fa287" shape-rendering="crispEdges"/>
<rect x="1390.39" y="568.7" width="6.38" height="5.94" fill="#34b679" shape-rendering="crispEdges"/>
<rect x="1396.77" y="568.7" width="6.38" height="5.94" fill="#5cc863" shape-rendering="crispEdges"/>
<rect x="1403.15" y="568.7" width="6.38" height="5.94" fill="#93d741" shape-rendering="crispEdges"/>
<rect x="1409.53" y="568.7" width="6.38" height="5.94" fill="#cde11d" shape-rendering="crispEdges"/>
<rect x="1415.9" y="568.7" width="6.38" height="5.94" fill="#fde725" shape-rendering="crispEdges"/>
<rect x="1358.5" y="574.64" width="6.38" height="5.94" fill="#404688" shape-rendering="crispEdges"/>
<rect x="1364.88" y="574.64" width="6.38" height="5.94" fill="#355e8d" shape-rendering="crispEdges"/>
<rect x="1371.25" y="574.64" width="6.38" height="5.94" fill="#2c728e" shape-rendering="crispEdges"/>
<rect x="1377.63" y="574.64" width="6.38" height="5.94" fill="#24868e" shape-rendering="crispEdges"/>
<rect x="1384.01" y="574.64" width="6.38" height="5.94" fill="#1e9b8a" shape-rendering="crispEdges"/>
<rect x="1390.39" y="574.64" width="6.38" height="5.94" fill="#28ae80" shape-rendering="crispEdges"/>
<rect x="1396.77" y="574.64" width="6.38" height="5.94" fill="#4ac16d" shape-rendering="crispEdges"/>
<rect x="1403.15" y="574.64" width="6.38" height="5.94" fill="#77d153" shape-rendering="crispEdges"/>
<rect x="1409.53" y="574.64" width="6.38" height="5.94" fill="#addc30" shape-rendering="crispEdges"/>
<rect x="1415.9" y="574.64" width="6.38" height="5.94" fill="#e7e419" shape-rendering="crispEdges"/>
<rect x="1364.88" y="580.58" width="6.38" height="5.94" fill="#38588c" shape-rendering="crispEdges"/>
<rect x="1371.25" y="580.58" width="6.38" height="5.94" fill="#2e6d8e" shape-rendering="crispEdges"/>
<rect x="1377.63" y="580.58" width="6.38" height="5.94" fill="#27808e" shape-rendering="crispEdges"/>
<rect x="1384.01" y="580.58" width="6.38" height="5.94" fill="#20938c" shape-rendering="crispEdges"/>
<rect x="1390.39" y="580.58" width="6.38" height="5.94" fill="#21a685" shape-rendering="crispEdges"/>
<rect x="1396.77" y="580.58" width="6.38" height="5.94" fill="#37b878" shape-rendering="crispEdges"/>
<rect x="1403.15" y="580.58" width="6.38" height="5.94" fill="#5ec962" shape-rendering="crispEdges"/>
<rect x="1409.53" y="580.58" width="6.38" height="5.94" fill="#8ed645" shape-rendering="crispEdges"/>
<rect x="1415.9" y="580.58" width="6.38" height="5.94" fill="#c5e021" shape-rendering="crispEdges"/>
<rect x="1422.28" y="580.58" width="6.38" height="5.94" fill="#f8e621" shape-rendering="crispEdges"/>
<rect x="1364.88" y="586.52" width="6.38" height="5.94" fill="#3b528b" shape-rendering="crispEdges"/>
<rect x="1371.25" y="586.52" width="6.38" height="5.94" fill="#31678e" shape-rendering="crispEdges"/>
<rect x="1377.63" y="586.52" width="6.38" height="5.94" fill="#29798e" shape-rendering="crispEdges"/>
<rect x="1384.01" y="586.52" width="6.38" height="5.94" fill="#228c8d" shape-rendering="crispEdges"/>
<rect x="1390.39" y="586.52" width="6.38" height="5.94" fill="#1f9f88" shape-rendering="crispEdges"/>
<rect x="1396.77" y="586.52" width="6.38" height="5.94" fill="#2ab07f" shape-rendering="crispEdges"/>
<rect x="1403.15" y="586.52" width="6.38" height="5.94" fill="#4ac16d" shape-rendering="crispEdges"/>
<rect x="1409.53" y="586.52" width="6.38" height="5.94" fill="#73d056" shape-rendering="crispEdges"/>
<rect x="1415.9" y="586.52" width="6.38" height="5.94" fill="#a5db36" shape-rendering="crispEdges"/>
<rect x="1422.28" y="586.52" width="6.38" height="5.94" fill="#dae319" shape-rendering="crispEdges"/>
<rect x="1428.66" y="586.52" width="6.38" height="5.94" fill="#fde725" shape-rendering="crispEdges"/>
<rect x="1364.88" y="592.46" width="6.38" height="5.94" fill="#3d4d8a" shape-rendering="crispEdges"/>
<rect x="1371.25" y="592.46" width="6.38" height="5.94" fill="#34618d" shape-rendering="crispEdges"/>
<rect x="1377.63" y="592.46" width="6.38" height="5.94" fill="#2c738e" shape-rendering="crispEdges"/>
<rect x="1384.01" y="592.46" width="6.38" height="5.94" fill="#25858e" shape-rendering="crispEdges"/>
<rect x="1390.39" y="592.46" width="6.38" height="5.94" fill="#1f978b" shape-rendering="crispEdges"/>
<rect x="1396.77" y="592.46" width="6.38" height="5.94" fill="#23a983" shape-rendering="crispEdges"/>
<rect x="1403.15" y="592.46" width="6.38" height="5.94" fill="#38b977" shape-rendering="crispEdges"/>
<rect x="1409.53" y="592.46" width="6.38" height="5.94" fill="#5cc863" shape-rendering="crispEdges"/>
<rect x="1415.9" y="592.46" width="6.38" height="5.94" fill="#89d548" shape-rendering="crispEdges"/>
<rect x="1422.28" y="592.46" width="6.38" height="5.94" fill="#bade28" shape-rendering="crispEdges"/>
<rect x="1428.66" y="592.46" width="6.38" height="5.94" fill="#ece51b" shape-rendering="crispEdges"/>
<rect x="1364.88" y="598.41" width="6.38" height="5.94" fill="#3f4788" shape-rendering="crispEdges"/>
<rect x="1371.25" y="598.41" width="6.38" height="5.94" fill="#375b8d" shape-rendering="crispEdges"/>
<rect x="1377.63" y="598.41" width="6.38" height="5.94" fill="#2e6d8e" shape-rendering="crispEdges"/>
<rect x="1384.01" y="598.41" width="6.38" height="5.94" fill="#277f8e" shape-rendering="crispEdges"/>
<rect x="1390.39" y="598.41" width="6.38" height="5.94" fill="#21908d" shape-rendering="crispEdges"/>
<rect x="1396.77" y="598.41" width="6.38" height="5.94" fill="#1fa188" shape-rendering="crispEdges"/>
<rect x="1403.15" y="598.41" width="6.38" height="5.94" fill="#2cb17e" shape-rendering="crispEdges"/>
<rect x="1409.53" y="598.41" width="6.38" height="5.94" fill="#4ac16d" shape-rendering="crispEdges"/>
<rect x="1415.9" y="598.41" width="6.38" height="5.94" fill="#70cf57" shape-rendering="crispEdges"/>
<rect x="1422.28" y="598.41" width="6.38" height="5.94" fill="#9dd93b" shape-rendering="crispEdges"/>
<rect x="1428.66" y="598.41" width="6.38" height="5.94" fill="#cde11d" shape-rendering="crispEdges"/>
<rect x="1435.04" y="598.41" width="6.38" height="5.94" fill="#fde725" shape-rendering="crispEdges"/>
<rect x="1364.88" y="604.35" width="6.38" height="5.94" fill="#424186" shape-rendering="crispEdges"/>
<rect x="1371.25" y="604.35" width="6.38" height="5.94" fill="#3a548c" shape-rendering="crispEdges"/>
<rect x="1377.63" y="604.35" width="6.38" height="5.94" fill="#31668e" shape-rendering="crispEdges"/>
<rect x="1384.01" y="604.35" width="6.38" height="5.94" fill="#2a778e" shape-rendering="crispEdges"/>
<rect x="1390.39" y="604.35" width="6.38" height="5.94" fill="#24878e" shape-rendering="crispEdges"/>
<rect x="1396.77" y="604.35" width="6.38" height="5.94" fill="#1f978b" shape-rendering="crispEdges"/>
<rect x="1403.15" y="604.35" width="6.38" height="5.94" fill="#22a785" shape-rendering="crispEdges"/>
<rect x="1409.53" y="604.35" width="6.38" height="5.94" fill="#34b679" shape-rendering="crispEdges"/>
<rect x="1415.9" y="604.35" width="6.38" height="5.94" fill="#52c569" shape-rendering="crispEdges"/>
<rect x="1422.28" y="604.35" width="6.38" height="5.94" fill="#7ad151" shape-rendering="crispEdges"/>
<rect x="1428.66" y="604.35" width="6.38" height="5.94" fill="#a5db36" shape-rendering="crispEdges"/>
<rect x="1435.04" y="604.35" width="6.38" height="5.94" fill="#d2e21b" shape-rendering="crispEdges"/>
<rect x="1441.42" y="604.35" width="6.38" height="5.94" fill="#fde725" shape-rendering="crispEdges"/>
<rect x="1371.25" y="610.29" width="6.38" height="5.94" fill="#3c4f8a" shape-rendering="crispEdges"/>
<rect x="1377.63" y="610.29" width="6.38" height="5.94" fill="#34608d" shape-rendering="crispEdges"/>
<rect x="1384.01" y="610.29" width="6.38" height="5.94" fill="#2d708e" shape-rendering="crispEdges"/>
<rect x="1390.39" y="610.29" width="6.38" height="5.94" fill="#277f8e" shape-rendering="crispEdges"/>
<rect x="1396.77" y="610.29" width="6.38" height="5.94" fill="#218f8d" shape-rendering="crispEdges"/>
<rect x="1403.15" y="610.29" width="6.38" height="5.94" fill="#1f9e89" shape-rendering="crispEdges"/>
<rect x="1409.53" y="610.29" width="6.38" height="5.94" fill="#26ad81" shape-rendering="crispEdges"/>
<rect x="1415.9" y="610.29" width="6.38" height="5.94" fill="#3bbb75" shape-rendering="crispEdges"/>
<rect x="1422.28" y="610.29" width="6.38" height="5.94" fill="#5cc863" shape-rendering="crispEdges"/>
<rect x="1428.66" y="610.29" width="6.38" height="5.94" fill="#81d34d" shape-rendering="crispEdges"/>
<rect x="1435.04" y="610.29" width="6.38" height="5.94" fill="#aadc32" shape-rendering="crispEdges"/>
<rect x="1441.42" y="610.29" width="6.38" height="5.94" fill="#d5e21a" shape-rendering="crispEdges"/>
<rect x="1447.8" y="610.29" width="6.38" height="5.94" fill="#fde725" shape-rendering="crispEdges"/>
<rect x="1371.25" y="616.23" width="6.38" height="5.94" fill="#3e4989" shape-rendering="crispEdges"/>
<rect x="1377.63" y="616.23" width="6.38" height="5.94" fill="#375b8d" shape-rendering="crispEdges"/>
<rect x="1384.01" y="616.23" width="6.38" height="5.94" fill="#2f6b8e" shape-rendering="crispEdges"/>
<rect x="1390.39" y="616.23" width="6.38" height="5.94" fill="#29798e" shape-rendering="crispEdges"/>
<rect x="1396.77" y="616.23" width="6.38" height="5.94" fill="#23888e" shape-rendering="crispEdges"/>
<rect x="1403.15" y="616.23" width="6.38" height="5.94" fill="#1f978b" shape-rendering="crispEdges"/>
<rect x="1409.53" y="616.23" width="6.38" height="5.94" fill="#21a685" shape-rendering="crispEdges"/>
<rect x="1415.9" y="616.23" width="6.38" height="5.94" fill="#2fb47c" shape-rendering="crispEdges"/>
<rect x="1422.28" y="616.23" width="6.38" height="5.94" fill="#4ac16d" shape-rendering="crispEdges"/>
<rect x="1428.66" y="616.23" width="6.38" height="5.94" fill="#6ccd5a" shape-rendering="crispEdges"/>
<rect x="1435.04" y="616.23" width="6.38" height="5.94" fill="#93d741" shape-rendering="crispEdges"/>
<rect x="1441.42" y="616.23" width="6.38" height="5.94" fill="#bddf26" shape-rendering="crispEdges"/>
<rect x="1447.8" y="616.23" width="6.38" height="5.94" fill="#e5e419" shape-rendering="crispEdges"/>
<rect x="1454.17" y="616.23" width="6.38" height="5.94" fill="#fde725" shape-rendering="crispEdges"/>
<rect x="1371.25" y="622.17" width="6.38" height="5.94" fill="#414287" shape-rendering="crispEdges"/>
<rect x="1377.63" y="622.17" width="6.38" height="5.94" fill="#3a548c" shape-rendering="crispEdges"/>
<rect x="1384.01" y="622.17" width="6.38" height="5.94" fill="#32648e" shape-rendering="crispEdges"/>
<rect x="1390.39" y="622.17" width="6.38" height="5.94" fill="#2c738e" shape-rendering="crispEdges"/>
<rect x="1396.77" y="622.17" width="6.38" height="5.94" fill="#26828e" shape-rendering="crispEdges"/>
<rect x="1403.15" y="622.17" width="6.38" height="5.94" fill="#21908d" shape-rendering="crispEdges"/>
<rect x="1409.53" y="622.17" width="6.38" height="5.94" fill="#1f9f88" shape-rendering="crispEdges"/>
<rect x="1415.9" y="622.17" width="6.38" height="5.94" fill="#26ad81" shape-rendering="crispEdges"/>
<rect x="1422.28" y="622.17" width="6.38" height="5.94" fill="#3bbb75" shape-rendering="crispEdges"/>
<rect x="1428.66" y="622.17" width="6.38" height="5.94" fill="#58c765" shape-rendering="crispEdges"/>
<rect x="1435.04" y="622.17" width="6.38" height="5.94" fill="#7cd250" shape-rendering="crispEdges"/>
<rect x="1441.42" y="622.17" width="6.38" height="5.94" fill="#a2da37" shape-rendering="crispEdges"/>
<rect x="1447.8" y="622.17" width="6.38" height="5.94" fill="#cde11d" shape-rendering="crispEdges"/>
<rect x="1454.17" y="622.17" width="6.38" height="5.94" fill="#f4e61e" shape-rendering="crispEdges"/>
<rect x="1377.63" y="628.11" width="6.38" height="5.94" fill="#3d4e8a" shape-rendering="crispEdges"/>
<rect x="1384.01" y="628.11" width="6.38" height="5.94" fill="#355e8d" shape-rendering="crispEdges"/>
<rect x="1390.39" y="628.11" width="6.38" height="5.94" fill="#2e6d8e" shape-rendering="crispEdges"/>
<rect x="1396.77" y="628.11" width="6.38" height="5.94" fill="#297b8e" shape-rendering="crispEdges"/>
<rect x="1403.15" y="628.11" width="6.38" height="5.94" fill="#23898e" shape-rendering="crispEdges"/>
<rect x="1409.53" y="628.11" width="6.38" height="5.94" fill="#1f978b" shape-rendering="crispEdges"/>
<rect x="1415.9" y="628.11" width="6.38" height="5.94" fill="#21a685" shape-rendering="crispEdges"/>
<rect x="1422.28" y="628.11" width="6.38" height="5.94" fill="#2fb47c" shape-rendering="crispEdges"/>
<rect x="1428.66" y="628.11" width="6.38" height="5.94" fill="#48c16e" shape-rendering="crispEdges"/>
<rect x="1435.04" y="628.11" width="6.38" height="5.94" fill="#67cc5c" shape-rendering="crispEdges"/>
<rect x="1441.42" y="628.11" width="6.38" height="5.94" fill="#8bd646" shape-rendering="crispEdges"/>
<rect x="1447.8" y="628.11" width="6.38" height="5.94" fill="#b2dd2d" shape-rendering="crispEdges"/>
<rect x="1454.17" y="628.11" width="6.38" height="5.94" fill="#dae319" shape-rendering="crispEdges"/>
<rect x="1460.55" y="628.11" width="6.38" height="5.94" fill="#fde725" shape-rendering="crispEdges"/>
<rect x="1377.63" y="634.05" width="6.38" height="5.94" fill="#3f4788" shape-rendering="crispEdges"/>
<rect x="1384.01" y="634.05" width="6.38" height="5.94" fill="#38588c" shape-rendering="crispEdges"/>
<rect x="1390.39" y="634.05" width="6.38" height="5.94" fill="#31668e" shape-rendering="crispEdges"/>
<rect x="1396.77" y="634.05" width="6.38" height="5.94" fill="#2b748e" shape-rendering="crispEdges"/>
<rect x="1403.15" y="634.05" width="6.38" height="5.94" fill="#26828e" shape-rendering="crispEdges"/>
<rect x="1409.53" y="634.05" width="6.38" height="5.94" fill="#218f8d" shape-rendering="crispEdges"/>
<rect x="1415.9" y="634.05" width="6.38" height="5.94" fill="#1e9d89" shape-rendering="crispEdges"/>
<rect x="1422.28" y="634.05" width="6.38" height="5.94" fill="#24aa83" shape-rendering="crispEdges"/>
<rect x="1428.66" y="634.05" width="6.38" height="5.94" fill="#35b779" shape-rendering="crispEdges"/>
<rect x="1435.04" y="634.05" width="6.38" height="5.94" fill="#4ec36b" shape-rendering="crispEdges"/>
<rect x="1441.42" y="634.05" width="6.38" height="5.94" fill="#6ece58" shape-rendering="crispEdges"/>
<rect x="1447.8" y="634.05" width="6.38" height="5.94" fill="#90d743" shape-rendering="crispEdges"/>
<rect x="1454.17" y="634.05" width="6.38" height="5.94" fill="#b8de29" shape-rendering="crispEdges"/>
<rect x="1460.55" y="634.05" width="6.38" height="5.94" fill="#dde318" shape-rendering="crispEdges"/>
<rect x="1466.93" y="634.05" width="6.38" height="5.94" fill="#fde725" shape-rendering="crispEdges"/>
<rect x="1377.63" y="639.99" width="6.38" height="5.94" fill="#424186" shape-rendering="crispEdges"/>
<rect x="1384.01" y="639.99" width="6.38" height="5.94" fill="#3b518b" shape-rendering="crispEdges"/>
<rect x="1390.39" y="639.99" width="6.38" height="5.94" fill="#34608d" shape-rendering="crispEdges"/>
<rect x="1396.77" y="639.99" width="6.38" height="5.94" fill="#2e6d8e" shape-rendering="crispEdges"/>
<rect x="1403.15" y="639.99" width="6.38" height="5.94" fill="#297a8e" shape-rendering="crispEdges"/>
<rect x="1409.53" y="639.99" width="6.38" height="5.94" fill="#24878e" shape-rendering="crispEdges"/>
<rect x="1415.9" y="639.99" width="6.38" height="5.94" fill="#1f948c" shape-rendering="crispEdges"/>
<rect x="1422.28" y="639.99" width="6.38" height="5.94" fill="#1fa187" shape-rendering="crispEdges"/>
<rect x="1428.66" y="639.99" width="6.38" height="5.94" fill="#28ae80" shape-rendering="crispEdges"/>
<rect x="1435.04" y="639.99" width="6.38" height="5.94" fill="#3bbb75" shape-rendering="crispEdges"/>
<rect x="1441.42" y="639.99" width="6.38" height="5.94" fill="#56c667" shape-rendering="crispEdges"/>
<rect x="1447.8" y="639.99" width="6.38" height="5.94" fill="#73d056" shape-rendering="crispEdges"/>
<rect x="1454.17" y="639.99" width="6.38" height="5.94" fill="#95d840" shape-rendering="crispEdges"/>
<rect x="1460.55" y="639.99" width="6.38" height="5.94" fill="#bade28" shape-rendering="crispEdges"/>
<rect x="1466.93" y="639.99" width="6.38" height="5.94" fill="#dfe318" shape-rendering="crispEdges"/>
<rect x="1473.31" y="639.99" width="6.38" height="5.94" fill="#fde725" shape-rendering="crispEdges"/>
<rect x="1384.01" y="645.94" width="6.38" height="5.94" fill="#3e4a89" shape-rendering="crispEdges"/>
<rect x="1390.39" y="645.94" width="6.38" height="5.94" fill="#375a8c" shape-rendering="crispEdges"/>
<rect x="1396.77" y="645.94" width="6.38" height="5.94" fill="#31678e" shape-rendering="crispEdges"/>
<rect x="1403.15" y="645.94" width="6.38" height="5.94" fill="#2c738e" shape-rendering="crispEdges"/>
<rect x="1409.53" y="645.94" width="6.38" height="5.94" fill="#26818e" shape-rendering="crispEdges"/>
<rect x="1415.9" y="645.94" width="6.38" height="5.94" fill="#228d8d" shape-rendering="crispEdges"/>
<rect x="1422.28" y="645.94" width="6.38" height="5.94" fill="#1f998a" shape-rendering="crispEdges"/>
<rect x="1428.66" y="645.94" width="6.38" height="5.94" fill="#21a685" shape-rendering="crispEdges"/>
<rect x="1435.04" y="645.94" width="6.38" height="5.94" fill="#2db27d" shape-rendering="crispEdges"/>
<rect x="1441.42" y="645.94" width="6.38" height="5.94" fill="#40bd72" shape-rendering="crispEdges"/>
<rect x="1447.8" y="645.94" width="6.38" height="5.94" fill="#5cc863" shape-rendering="crispEdges"/>
<rect x="1454.17" y="645.94" width="6.38" height="5.94" fill="#7ad151" shape-rendering="crispEdges"/>
<rect x="1460.55" y="645.94" width="6.38" height="5.94" fill="#9bd93c" shape-rendering="crispEdges"/>
<rect x="1466.93" y="645.94" width="6.38" height="5.94" fill="#c0df25" shape-rendering="crispEdges"/>
<rect x="1473.31" y="645.94" width="6.38" height="5.94" fill="#e2e418" shape-rendering="crispEdges"/>
<rect x="1479.69" y="645.94" width="6.38" height="5.94" fill="#fde725" shape-rendering="crispEdges"/>
<rect x="1384.01" y="651.88" width="6.38" height="5.94" fill="#404588" shape-rendering="crispEdges"/>
<rect x="1390.39" y="651.88" width="6.38" height="5.94" fill="#3a538b" shape-rendering="crispEdges"/>
<rect x="1396.77" y="651.88" width="6.38" height="5.94" fill="#34618d" shape-rendering="crispEdges"/>
<rect x="1403.15" y="651.88" width="6.38" height="5.94" fill="#2e6e8e" shape-rendering="crispEdges"/>
<rect x="1409.53" y="651.88" width="6.38" height="5.94" fill="#29798e" shape-rendering="crispEdges"/>
<rect x="1415.9" y="651.88" width="6.38" height="5.94" fill="#25858e" shape-rendering="crispEdges"/>
<rect x="1422.28" y="651.88" width="6.38" height="5.94" fill="#20928c" shape-rendering="crispEdges"/>
<rect x="1428.66" y="651.88" width="6.38" height="5.94" fill="#1f9e89" shape-rendering="crispEdges"/>
<rect x="1435.04" y="651.88" width="6.38" height="5.94" fill="#24aa83" shape-rendering="crispEdges"/>
<rect x="1441.42" y="651.88" width="6.38" height="5.94" fill="#32b67a" shape-rendering="crispEdges"/>
<rect x="1447.8" y="651.88" width="6.38" height="5.94" fill="#46c06f" shape-rendering="crispEdges"/>
<rect x="1454.17" y="651.88" width="6.38" height="5.94" fill="#60ca60" shape-rendering="crispEdges"/>
<rect x="1460.55" y="651.88" width="6.38" height="5.94" fill="#7fd34e" shape-rendering="crispEdges"/>
<rect x="1466.93" y="651.88" width="6.38" height="5.94" fill="#a0da39" shape-rendering="crispEdges"/>
<rect x="1473.31" y="651.88" width="6.38" height="5.94" fill="#c2df23" shape-rendering="crispEdges"/>
<rect x="1479.69" y="651.88" width="6.38" height="5.94" fill="#e5e419" shape-rendering="crispEdges"/>
<rect x="1486.07" y="651.88" width="6.38" height="5.94" fill="#fde725" shape-rendering="crispEdges"/>
<rect x="1384.01" y="657.82" width="6.38" height="5.94" fill="#423f85" shape-rendering="crispEdges"/>
<rect x="1390.39" y="657.82" width="6.38" height="5.94" fill="#3d4d8a" shape-rendering="crispEdges"/>
<rect x="1396.77" y="657.82" width="6.38" height="5.94" fill="#375a8c" shape-rendering="crispEdges"/>
<rect x="1403.15" y="657.82" width="6.38" height="5.94" fill="#31678e" shape-rendering="crispEdges"/>
<rect x="1409.53" y="657.82" width="6.38" height="5.94" fill="#2c728e" shape-rendering="crispEdges"/>
<rect x="1415.9" y="657.82" width="6.38" height="5.94" fill="#277f8e" shape-rendering="crispEdges"/>
<rect x="1422.28" y="657.82" width="6.38" height="5.94" fill="#238a8d" shape-rendering="crispEdges"/>
<rect x="1428.66" y="657.82" width="6.38" height="5.94" fill="#1f958b" shape-rendering="crispEdges"/>
<rect x="1435.04" y="657.82" width="6.38" height="5.94" fill="#1fa187" shape-rendering="crispEdges"/>
<rect x="1441.42" y="657.82" width="6.38" height="5.94" fill="#26ad81" shape-rendering="crispEdges"/>
<rect x="1447.8" y="657.82" width="6.38" height="5.94" fill="#37b878" shape-rendering="crispEdges"/>
<rect x="1454.17" y="657.82" width="6.38" height="5.94" fill="#4cc26c" shape-rendering="crispEdges"/>
<rect x="1460.55" y="657.82" width="6.38" height="5.94" fill="#67cc5c" shape-rendering="crispEdges"/>
<rect x="1466.93" y="657.82" width="6.38" height="5.94" fill="#84d44b" shape-rendering="crispEdges"/>
<rect x="1473.31" y="657.82" width="6.38" height="5.94" fill="#a2da37" shape-rendering="crispEdges"/>
<rect x="1479.69" y="657.82" width="6.38" height="5.94" fill="#c5e021" shape-rendering="crispEdges"/>
<rect x="1486.07" y="657.82" width="6.38" height="5.94" fill="#e5e419" shape-rendering="crispEdges"/>
<rect x="1492.45" y="657.82" width="6.38" height="5.94" fill="#fde725" shape-rendering="crispEdges"/>
<rect x="1390.39" y="663.76" width="6.38" height="5.94" fill="#404688" shape-rendering="crispEdges"/>
<rect x="1396.77" y="663.76" width="6.38" height="5.94" fill="#3a538b" shape-rendering="crispEdges"/>
<rect x="1403.15" y="663.76" width="6.38" height="5.94" fill="#34608d" shape-rendering="crispEdges"/>
<rect x="1409.53" y="663.76" width="6.38" height="5.94" fill="#2f6c8e" shape-rendering="crispEdges"/>
<rect x="1415.9" y="663.76" width="6.38" height="5.94" fill="#2a778e" shape-rendering="crispEdges"/>
<rect x="1422.28" y="663.76" width="6.38" height="5.94" fill="#26828e" shape-rendering="crispEdges"/>
<rect x="1428.66" y="663.76" width="6.38" height="5.94" fill="#218f8d" shape-rendering="crispEdges"/>
<rect x="1435.04" y="663.76" width="6.38" height="5.94" fill="#1f9a8a" shape-rendering="crispEdges"/>
<rect x="1441.42" y="663.76" width="6.38" height="5.94" fill="#21a585" shape-rendering="crispEdges"/>
<rect x="1447.8" y="663.76" width="6.38" height="5.94" fill="#2ab07f" shape-rendering="crispEdges"/>
<rect x="1454.17" y="663.76" width="6.38" height="5.94" fill="#3bbb75" shape-rendering="crispEdges"/>
<rect x="1460.55" y="663.76" width="6.38" height="5.94" fill="#52c569" shape-rendering="crispEdges"/>
<rect x="1466.93" y="663.76" width="6.38" height="5.94" fill="#6ccd5a" shape-rendering="crispEdges"/>
<rect x="1473.31" y="663.76" width="6.38" height="5.94" fill="#89d548" shape-rendering="crispEdges"/>
<rect x="1479.69" y="663.76" width="6.38" height="5.94" fill="#a8db34" shape-rendering="crispEdges"/>
<rect x="1486.07" y="663.76" width="6.38" height="5.94" fill="#c8e020" shape-rendering="crispEdges"/>
<rect x="1492.45" y="663.76" width="6.38" height="5.94" fill="#e7e419" shape-rendering="crispEdges"/>
<rect x="1498.82" y="663.76" width="6.38" height="5.94" fill="#fde725" shape-rendering="crispEdges"/>
<rect x="1390.39" y="669.7" width="6.38" height="5.94" fill="#423f85" shape-rendering="crispEdges"/>
<rect x="1396.77" y="669.7" width="6.38" height="5.94" fill="#3d4d8a" shape-rendering="crispEdges"/>
<rect x="1403.15" y="669.7" width="6.38" height="5.94" fill="#375a8c" shape-rendering="crispEdges"/>
<rect x="1409.53" y="669.7" width="6.38" height="5.94" fill="#32658e" shape-rendering="crispEdges"/>
<rect x="1415.9" y="669.7" width="6.38" height="5.94" fill="#2d718e" shape-rendering="crispEdges"/>
<rect x="1422.28" y="669.7" width="6.38" height="5.94" fill="#287c8e" shape-rendering="crispEdges"/>
<rect x="1428.66" y="669.7" width="6.38" height="5.94" fill="#24878e" shape-rendering="crispEdges"/>
<rect x="1435.04" y="669.7" width="6.38" height="5.94" fill="#20928c" shape-rendering="crispEdges"/>
<rect x="1441.42" y="669.7" width="6.38" height="5.94" fill="#1e9d89" shape-rendering="crispEdges"/>
<rect x="1447.8" y="669.7" width="6.38" height="5.94" fill="#22a884" shape-rendering="crispEdges"/>
<rect x="1454.17" y="669.7" width="6.38" height="5.94" fill="#2db27d" shape-rendering="crispEdges"/>
<rect x="1460.55" y="669.7" width="6.38" height="5.94" fill="#3fbc73" shape-rendering="crispEdges"/>
<rect x="1466.93" y="669.7" width="6.38" height="5.94" fill="#56c667" shape-rendering="crispEdges"/>
<rect x="1473.31" y="669.7" width="6.38" height="5.94" fill="#70cf57" shape-rendering="crispEdges"/>
<rect x="1479.69" y="669.7" width="6.38" height="5.94" fill="#8bd646" shape-rendering="crispEdges"/>
<rect x="1486.07" y="669.7" width="6.38" height="5.94" fill="#aadc32" shape-rendering="crispEdges"/>
<rect x="1492.45" y="669.7" width="6.38" height="5.94" fill="#cae11f" shape-rendering="crispEdges"/>
<rect x="1498.82" y="669.7" width="6.38" height="5.94" fill="#e7e419" shape-rendering="crispEdges"/>
<rect x="1505.2" y="669.7" width="6.38" height="5.94" fill="#fde725" shape-rendering="crispEdges"/>
<rect x="1396.77" y="675.64" width="6.38" height="5.94" fill="#404688" shape-rendering="crispEdges"/>
<rect x="1403.15" y="675.64" width="6.38" height="5.94" fill="#3b528b" shape-rendering="crispEdges"/>
<rect x="1409.53" y="675.64" width="6.38" height="5.94" fill="#355e8d" shape-rendering="crispEdges"/>
<rect x="1415.9" y="675.64" width="6.38" height="5.94" fill="#306a8e" shape-rendering="crispEdges"/>
<rect x="1422.28" y="675.64" width="6.38" height="5.94" fill="#2b748e" shape-rendering="crispEdges"/>
<rect x="1428.66" y="675.64" width="6.38" height="5.94" fill="#27808e" shape-rendering="crispEdges"/>
<rect x="1435.04" y="675.64" width="6.38" height="5.94" fill="#238a8d" shape-rendering="crispEdges"/>
<rect x="1441.42" y="675.64" width="6.38" height="5.94" fill="#1f958b" shape-rendering="crispEdges"/>
<rect x="1447.8" y="675.64" width="6.38" height="5.94" fill="#1fa088" shape-rendering="crispEdges"/>
<rect x="1454.17" y="675.64" width="6.38" height="5.94" fill="#24aa83" shape-rendering="crispEdges"/>
<rect x="1460.55" y="675.64" width="6.38" height="5.94" fill="#31b57b" shape-rendering="crispEdges"/>
<rect x="1466.93" y="675.64" width="6.38" height="5.94" fill="#42be71" shape-rendering="crispEdges"/>
<rect x="1473.31" y="675.64" width="6.38" height="5.94" fill="#5ac864" shape-rendering="crispEdges"/>
<rect x="1479.69" y="675.64" width="6.38" height="5.94" fill="#73d056" shape-rendering="crispEdges"/>
<rect x="1486.07" y="675.64" width="6.38" height="5.94" fill="#90d743" shape-rendering="crispEdges"/>
<rect x="1492.45" y="675.64" width="6.38" height="5.94" fill="#addc30" shape-rendering="crispEdges"/>
<rect x="1498.82" y="675.64" width="6.38" height="5.94" fill="#cae11f" shape-rendering="crispEdges"/>
<rect x="1505.2" y="675.64" width="6.38" height="5.94" fill="#eae51a" shape-rendering="crispEdges"/>
<rect x="1511.58" y="675.64" width="6.38" height="5.94" fill="#fde725" shape-rendering="crispEdges"/>
<rect x="1396.77" y="681.58" width="6.38" height="5.94" fill="#433e85" shape-rendering="crispEdges"/>
<rect x="1403.15" y="681.58" width="6.38" height="5.94" fill="#3e4a89" shape-rendering="crispEdges"/>
<rect x="1409.53" y="681.58" width="6.38" height="5.94" fill="#39568c" shape-rendering="crispEdges"/>
<rect x="1415.9" y="681.58" width="6.38" height="5.94" fill="#33628d" shape-rendering="crispEdges"/>
<rect x="1422.28" y="681.58" width="6.38" height="5.94" fill="#2e6d8e" shape-rendering="crispEdges"/>
<rect x="1428.66" y="681.58" width="6.38" height="5.94" fill="#2a788e" shape-rendering="crispEdges"/>
<rect x="1435.04" y="681.58" width="6.38" height="5.94" fill="#26828e" shape-rendering="crispEdges"/>
<rect x="1441.42" y="681.58" width="6.38" height="5.94" fill="#228d8d" shape-rendering="crispEdges"/>
<rect x="1447.8" y="681.58" width="6.38" height="5.94" fill="#1f978b" shape-rendering="crispEdges"/>
<rect x="1454.17" y="681.58" width="6.38" height="5.94" fill="#1fa187" shape-rendering="crispEdges"/>
<rect x="1460.55" y="681.58" width="6.38" height="5.94" fill="#26ad81" shape-rendering="crispEdges"/>
<rect x="1466.93" y="681.58" width="6.38" height="5.94" fill="#34b679" shape-rendering="crispEdges"/>
<rect x="1473.31" y="681.58" width="6.38" height="5.94" fill="#46c06f" shape-rendering="crispEdges"/>
<rect x="1479.69" y="681.58" width="6.38" height="5.94" fill="#5cc863" shape-rendering="crispEdges"/>
<rect x="1486.07" y="681.58" width="6.38" height="5.94" fill="#75d054" shape-rendering="crispEdges"/>
<rect x="1492.45" y="681.58" width="6.38" height="5.94" fill="#93d741" shape-rendering="crispEdges"/>
<rect x="1498.82" y="681.58" width="6.38" height="5.94" fill="#b0dd2f" shape-rendering="crispEdges"/>
<rect x="1505.2" y="681.58" width="6.38" height="5.94" fill="#cde11d" shape-rendering="crispEdges"/>
<rect x="1511.58" y="681.58" width="6.38" height="5.94" fill="#eae51a" shape-rendering="crispEdges"/>
<rect x="1517.96" y="681.58" width="6.38" height="5.94" fill="#fde725" shape-rendering="crispEdges"/>
<rect x="1403.15" y="687.52" width="6.38" height="5.94" fill="#424186" shape-rendering="crispEdges"/>
<rect x="1409.53" y="687.52" width="6.38" height="5.94" fill="#3d4e8a" shape-rendering="crispEdges"/>
<rect x="1415.9" y="687.52" width="6.38" height="5.94" fill="#375a8c" shape-rendering="crispEdges"/>
<rect x="1422.28" y="687.52" width="6.38" height="5.94" fill="#32658e" shape-rendering="crispEdges"/>
<rect x="1428.66" y="687.52" width="6.38" height="5.94" fill="#2d708e" shape-rendering="crispEdges"/>
<rect x="1435.04" y="687.52" width="6.38" height="5.94" fill="#297a8e" shape-rendering="crispEdges"/>
<rect x="1441.42" y="687.52" width="6.38" height="5.94" fill="#25848e" shape-rendering="crispEdges"/>
<rect x="1447.8" y="687.52" width="6.38" height="5.94" fill="#218f8d" shape-rendering="crispEdges"/>
<rect x="1454.17" y="687.52" width="6.38" height="5.94" fill="#1f998a" shape-rendering="crispEdges"/>
<rect x="1460.55" y="687.52" width="6.38" height="5.94" fill="#20a386" shape-rendering="crispEdges"/>
<rect x="1466.93" y="687.52" width="6.38" height="5.94" fill="#27ad81" shape-rendering="crispEdges"/>
<rect x="1473.31" y="687.52" width="6.38" height="5.94" fill="#35b779" shape-rendering="crispEdges"/>
<rect x="1479.69" y="687.52" width="6.38" height="5.94" fill="#48c16e" shape-rendering="crispEdges"/>
<rect x="1486.07" y="687.52" width="6.38" height="5.94" fill="#5ec962" shape-rendering="crispEdges"/>
<rect x="1492.45" y="687.52" width="6.38" height="5.94" fill="#77d153" shape-rendering="crispEdges"/>
<rect x="1498.82" y="687.52" width="6.38" height="5.94" fill="#93d741" shape-rendering="crispEdges"/>
<rect x="1505.2" y="687.52" width="6.38" height="5.94" fill="#b0dd2f" shape-rendering="crispEdges"/>
<rect x="1511.58" y="687.52" width="6.38" height="5.94" fill="#cde11d" shape-rendering="crispEdges"/>
<rect x="1517.96" y="687.52" width="6.38" height="5.94" fill="#eae51a" shape-rendering="crispEdges"/>
<rect x="1524.34" y="687.52" width="6.38" height="5.94" fill="#fde725" shape-rendering="crispEdges"/>
<rect x="1409.53" y="693.46" width="6.38" height="5.94" fill="#414487" shape-rendering="crispEdges"/>
<rect x="1415.9" y="693.46" width="6.38" height="5.94" fill="#3c508b" shape-rendering="crispEdges"/>
<rect x="1422.28" y="693.46" width="6.38" height="5.94" fill="#375b8d" shape-rendering="crispEdges"/>
<rect x="1428.66" y="693.46" width="6.38" height="5.94" fill="#31668e" shape-rendering="crispEdges"/>
<rect x="1435.04" y="693.46" width="6.38" height="5.94" fill="#2d708e" shape-rendering="crispEdges"/>
<rect x="1441.42" y="693.46" width="6.38" height="5.94" fill="#29798e" shape-rendering="crispEdges"/>
<rect x="1447.8" y="693.46" width="6.38" height="5.94" fill="#25838e" shape-rendering="crispEdges"/>
<rect x="1454.17" y="693.46" width="6.38" height="5.94" fill="#228d8d" shape-rendering="crispEdges"/>
<rect x="1460.55" y="693.46" width="6.38" height="5.94" fill="#1f968b" shape-rendering="crispEdges"/>
<rect x="1466.93" y="693.46" width="6.38" height="5.94" fill="#1fa188" shape-rendering="crispEdges"/>
<rect x="1473.31" y="693.46" width="6.38" height="5.94" fill="#24aa83" shape-rendering="crispEdges"/>
<rect x="1479.69" y="693.46" width="6.38" height="5.94" fill="#2fb47c" shape-rendering="crispEdges"/>
<rect x="1486.07" y="693.46" width="6.38" height="5.94" fill="#3fbc73" shape-rendering="crispEdges"/>
<rect x="1492.45" y="693.46" width="6.38" height="5.94" fill="#52c569" shape-rendering="crispEdges"/>
<rect x="1498.82" y="693.46" width="6.38" height="5.94" fill="#69cd5b" shape-rendering="crispEdges"/>
<rect x="1505.2" y="693.46" width="6.38" height="5.94" fill="#81d34d" shape-rendering="crispEdges"/>
<rect x="1511.58" y="693.46" width="6.38" height="5.94" fill="#9bd93c" shape-rendering="crispEdges"/>
<rect x="1517.96" y="693.46" width="6.38" height="5.94" fill="#b8de29" shape-rendering="crispEdges"/>
<rect x="1524.34" y="693.46" width="6.38" height="5.94" fill="#d2e21b" shape-rendering="crispEdges"/>
<rect x="1530.72" y="693.46" width="6.38" height="5.94" fill="#ece51b" shape-rendering="crispEdges"/>
<rect x="1537.09" y="693.46" width="6.38" height="5.94" fill="#fde725" shape-rendering="crispEdges"/>
<rect x="1409.53" y="699.41" width="6.38" height="5.94" fill="#443b84" shape-rendering="crispEdges"/>
<rect x="1415.9" y="699.41" width="6.38" height="5.94" fill="#3f4788" shape-rendering="crispEdges"/>
<rect x="1422.28" y="699.41" width="6.38" height="5.94" fill="#3a538b" shape-rendering="crispEdges"/>
<rect x="1428.66" y="699.41" width="6.38" height="5.94" fill="#355e8d" shape-rendering="crispEdges"/>
<rect x="1435.04" y="699.41" width="6.38" height="5.94" fill="#31688e" shape-rendering="crispEdges"/>
<rect x="1441.42" y="699.41" width="6.38" height="5.94" fill="#2c718e" shape-rendering="crispEdges"/>
<rect x="1447.8" y="699.41" width="6.38" height="5.94" fill="#297b8e" shape-rendering="crispEdges"/>
<rect x="1454.17" y="699.41" width="6.38" height="5.94" fill="#25858e" shape-rendering="crispEdges"/>
<rect x="1460.55" y="699.41" width="6.38" height="5.94" fill="#218f8d" shape-rendering="crispEdges"/>
<rect x="1466.93" y="699.41" width="6.38" height="5.94" fill="#1f988b" shape-rendering="crispEdges"/>
<rect x="1473.31" y="699.41" width="6.38" height="5.94" fill="#1fa187" shape-rendering="crispEdges"/>
<rect x="1479.69" y="699.41" width="6.38" height="5.94" fill="#25ac82" shape-rendering="crispEdges"/>
<rect x="1486.07" y="699.41" width="6.38" height="5.94" fill="#31b57b" shape-rendering="crispEdges"/>
<rect x="1492.45" y="699.41" width="6.38" height="5.94" fill="#40bd72" shape-rendering="crispEdges"/>
<rect x="1498.82" y="699.41" width="6.38" height="5.94" fill="#54c568" shape-rendering="crispEdges"/>
<rect x="1505.2" y="699.41" width="6.38" height="5.94" fill="#6ccd5a" shape-rendering="crispEdges"/>
<rect x="1511.58" y="699.41" width="6.38" height="5.94" fill="#84d44b" shape-rendering="crispEdges"/>
<rect x="1517.96" y="699.41" width="6.38" height="5.94" fill="#9dd93b" shape-rendering="crispEdges"/>
<rect x="1524.34" y="699.41" width="6.38" height="5.94" fill="#b8de29" shape-rendering="crispEdges"/>
<rect x="1530.72" y="699.41" width="6.38" height="5.94" fill="#d2e21b" shape-rendering="crispEdges"/>
<rect x="1537.09" y="699.41" width="6.38" height="5.94" fill="#efe51c" shape-rendering="crispEdges"/>
<rect x="1543.47" y="699.41" width="6.38" height="5.94" fill="#fde725" shape-rendering="crispEdges"/>
<rect x="1415.9" y="705.35" width="6.38" height="5.94" fill="#423f85" shape-rendering="crispEdges"/>
<rect x="1422.28" y="705.35" width="6.38" height="5.94" fill="#3e4989" shape-rendering="crispEdges"/>
<rect x="1428.66" y="705.35" width="6.38" height="5.94" fill="#3a548c" shape-rendering="crispEdges"/>
<rect x="1435.04" y="705.35" width="6.38" height="5.94" fill="#355f8d" shape-rendering="crispEdges"/>
<rect x="1441.42" y="705.35" width="6.38" height="5.94" fill="#31688e" shape-rendering="crispEdges"/>
<rect x="1447.8" y="705.35" width="6.38" height="5.94" fill="#2c718e" shape-rendering="crispEdges"/>
<rect x="1454.17" y="705.35" width="6.38" height="5.94" fill="#297b8e" shape-rendering="crispEdges"/>
<rect x="1460.55" y="705.35" width="6.38" height="5.94" fill="#25838e" shape-rendering="crispEdges"/>
<rect x="1466.93" y="705.35" width="6.38" height="5.94" fill="#228d8d" shape-rendering="crispEdges"/>
<rect x="1473.31" y="705.35" width="6.38" height="5.94" fill="#1f968b" shape-rendering="crispEdges"/>
<rect x="1479.69" y="705.35" width="6.38" height="5.94" fill="#1f9f88" shape-rendering="crispEdges"/>
<rect x="1486.07" y="705.35" width="6.38" height="5.94" fill="#22a884" shape-rendering="crispEdges"/>
<rect x="1492.45" y="705.35" width="6.38" height="5.94" fill="#2cb17e" shape-rendering="crispEdges"/>
<rect x="1498.82" y="705.35" width="6.38" height="5.94" fill="#38b977" shape-rendering="crispEdges"/>
<rect x="1505.2" y="705.35" width="6.38" height="5.94" fill="#4ac16d" shape-rendering="crispEdges"/>
<rect x="1511.58" y="705.35" width="6.38" height="5.94" fill="#5ec962" shape-rendering="crispEdges"/>
<rect x="1517.96" y="705.35" width="6.38" height="5.94" fill="#73d056" shape-rendering="crispEdges"/>
<rect x="1524.34" y="705.35" width="6.38" height="5.94" fill="#8bd646" shape-rendering="crispEdges"/>
<rect x="1530.72" y="705.35" width="6.38" height="5.94" fill="#a5db36" shape-rendering="crispEdges"/>
<rect x="1537.09" y="705.35" width="6.38" height="5.94" fill="#bddf26" shape-rendering="crispEdges"/>
<rect x="1543.47" y="705.35" width="6.38" height="5.94" fill="#d8e219" shape-rendering="crispEdges"/>
<rect x="1549.85" y="705.35" width="6.38" height="5.94" fill="#f1e51d" shape-rendering="crispEdges"/>
<rect x="1556.23" y="705.35" width="6.38" height="5.94" fill="#fde725" shape-rendering="crispEdges"/>
<rect x="1422.28" y="711.29" width="6.38" height="5.94" fill="#433e85" shape-rendering="crispEdges"/>
<rect x="1428.66" y="711.29" width="6.38" height="5.94" fill="#3e4989" shape-rendering="crispEdges"/>
<rect x="1435.04" y="711.29" width="6.38" height="5.94" fill="#3a548c" shape-rendering="crispEdges"/>
<rect x="1441.42" y="711.29" width="6.38" height="5.94" fill="#355e8d" shape-rendering="crispEdges"/>
<rect x="1447.8" y="711.29" width="6.38" height="5.94" fill="#31688e" shape-rendering="crispEdges"/>
<rect x="1454.17" y="711.29" width="6.38" height="5.94" fill="#2c718e" shape-rendering="crispEdges"/>
<rect x="1460.55" y="711.29" width="6.38" height="5.94" fill="#297a8e" shape-rendering="crispEdges"/>
<rect x="1466.93" y="711.29" width="6.38" height="5.94" fill="#25838e" shape-rendering="crispEdges"/>
<rect x="1473.31" y="711.29" width="6.38" height="5.94" fill="#228d8d" shape-rendering="crispEdges"/>
<rect x="1479.69" y="711.29" width="6.38" height="5.94" fill="#1f958b" shape-rendering="crispEdges"/>
<rect x="1486.07" y="711.29" width="6.38" height="5.94" fill="#1f9f88" shape-rendering="crispEdges"/>
<rect x="1492.45" y="711.29" width="6.38" height="5.94" fill="#22a884" shape-rendering="crispEdges"/>
<rect x="1498.82" y="711.29" width="6.38" height="5.94" fill="#2ab07f" shape-rendering="crispEdges"/>
<rect x="1505.2" y="711.29" width="6.38" height="5.94" fill="#38b977" shape-rendering="crispEdges"/>
<rect x="1511.58" y="711.29" width="6.38" height="5.94" fill="#4ac16d" shape-rendering="crispEdges"/>
<rect x="1517.96" y="711.29" width="6.38" height="5.94" fill="#5ec962" shape-rendering="crispEdges"/>
<rect x="1524.34" y="711.29" width="6.38" height="5.94" fill="#73d056" shape-rendering="crispEdges"/>
<rect x="1530.72" y="711.29" width="6.38" height="5.94" fill="#8bd646" shape-rendering="crispEdges"/>
<rect x="1537.09" y="711.29" width="6.38" height="5.94" fill="#a5db36" shape-rendering="crispEdges"/>
<rect x="1543.47" y="711.29" width="6.38" height="5.94" fill="#bddf26" shape-rendering="crispEdges"/>
<rect x="1549.85" y="711.29" width="6.38" height="5.94" fill="#d8e219" shape-rendering="crispEdges"/>
<rect x="1556.23" y="711.29" width="6.38" height="5.94" fill="#f1e51d" shape-rendering="crispEdges"/>
<rect x="1562.61" y="711.29" width="6.38" height="5.94" fill="#fde725" shape-rendering="crispEdges"/>
<rect x="1428.66" y="717.23" width="6.38" height="5.94" fill="#433e85" shape-rendering="crispEdges"/>
<rect x="1435.04" y="717.23" width="6.38" height="5.94" fill="#3f4889" shape-rendering="crispEdges"/>
<rect x="1441.42" y="717.23" width="6.38" height="5.94" fill="#3b518b" shape-rendering="crispEdges"/>
<rect x="1447.8" y="717.23" width="6.38" height="5.94" fill="#375b8d" shape-rendering="crispEdges"/>
<rect x="1454.17" y="717.23" width="6.38" height="5.94" fill="#32648e" shape-rendering="crispEdges"/>
<rect x="1460.55" y="717.23" width="6.38" height="5.94" fill="#2e6d8e" shape-rendering="crispEdges"/>
<rect x="1466.93" y="717.23" width="6.38" height="5.94" fill="#2b758e" shape-rendering="crispEdges"/>
<rect x="1473.31" y="717.23" width="6.38" height="5.94" fill="#277e8e" shape-rendering="crispEdges"/>
<rect x="1479.69" y="717.23" width="6.38" height="5.94" fill="#24868e" shape-rendering="crispEdges"/>
<rect x="1486.07" y="717.23" width="6.38" height="5.94" fill="#218f8d" shape-rendering="crispEdges"/>
<rect x="1492.45" y="717.23" width="6.38" height="5.94" fill="#1f978b" shape-rendering="crispEdges"/>
<rect x="1498.82" y="717.23" width="6.38" height="5.94" fill="#1fa088" shape-rendering="crispEdges"/>
<rect x="1505.2" y="717.23" width="6.38" height="5.94" fill="#22a884" shape-rendering="crispEdges"/>
<rect x="1511.58" y="717.23" width="6.38" height="5.94" fill="#2ab07f" shape-rendering="crispEdges"/>
<rect x="1517.96" y="717.23" width="6.38" height="5.94" fill="#35b779" shape-rendering="crispEdges"/>
<rect x="1524.34" y="717.23" width="6.38" height="5.94" fill="#44bf70" shape-rendering="crispEdges"/>
<rect x="1530.72" y="717.23" width="6.38" height="5.94" fill="#56c667" shape-rendering="crispEdges"/>
<rect x="1537.09" y="717.23" width="6.38" height="5.94" fill="#69cd5b" shape-rendering="crispEdges"/>
<rect x="1543.47" y="717.23" width="6.38" height="5.94" fill="#7fd34e" shape-rendering="crispEdges"/>
<rect x="1549.85" y="717.23" width="6.38" height="5.94" fill="#95d840" shape-rendering="crispEdges"/>
<rect x="1556.23" y="717.23" width="6.38" height="5.94" fill="#addc30" shape-rendering="crispEdges"/>
<rect x="1562.61" y="717.23" width="6.38" height="5.94" fill="#c5e021" shape-rendering="crispEdges"/>
<rect x="1568.99" y="717.23" width="6.38" height="5.94" fill="#dde318" shape-rendering="crispEdges"/>
<rect x="1575.36" y="717.23" width="6.38" height="5.94" fill="#f4e61e" shape-rendering="crispEdges"/>
<rect x="1581.74" y="717.23" width="6.38" height="5.94" fill="#fde725" shape-rendering="crispEdges"/>
<rect x="1435.04" y="723.17" width="6.38" height="5.94" fill="#433d84" shape-rendering="crispEdges"/>
<rect x="1441.42" y="723.17" width="6.38" height="5.94" fill="#404688" shape-rendering="crispEdges"/>
<rect x="1447.8" y="723.17" width="6.38" height="5.94" fill="#3c4f8a" shape-rendering="crispEdges"/>
<rect x="1454.17" y="723.17" width="6.38" height="5.94" fill="#38588c" shape-rendering="crispEdges"/>
<rect x="1460.55" y="723.17" width="6.38" height="5.94" fill="#34608d" shape-rendering="crispEdges"/>
<rect x="1466.93" y="723.17" width="6.38" height="5.94" fill="#31688e" shape-rendering="crispEdges"/>
<rect x="1473.31" y="723.17" width="6.38" height="5.94" fill="#2d708e" shape-rendering="crispEdges"/>
<rect x="1479.69" y="723.17" width="6.38" height="5.94" fill="#2a778e" shape-rendering="crispEdges"/>
<rect x="1486.07" y="723.17" width="6.38" height="5.94" fill="#277f8e" shape-rendering="crispEdges"/>
<rect x="1492.45" y="723.17" width="6.38" height="5.94" fill="#24868e" shape-rendering="crispEdges"/>
<rect x="1498.82" y="723.17" width="6.38" height="5.94" fill="#218e8d" shape-rendering="crispEdges"/>
<rect x="1505.2" y="723.17" width="6.38" height="5.94" fill="#1f958b" shape-rendering="crispEdges"/>
<rect x="1511.58" y="723.17" width="6.38" height="5.94" fill="#1e9d89" shape-rendering="crispEdges"/>
<rect x="1517.96" y="723.17" width="6.38" height="5.94" fill="#20a486" shape-rendering="crispEdges"/>
<rect x="1524.34" y="723.17" width="6.38" height="5.94" fill="#25ac82" shape-rendering="crispEdges"/>
<rect x="1530.72" y="723.17" width="6.38" height="5.94" fill="#2fb47c" shape-rendering="crispEdges"/>
<rect x="1537.09" y="723.17" width="6.38" height="5.94" fill="#3bbb75" shape-rendering="crispEdges"/>
<rect x="1543.47" y="723.17" width="6.38" height="5.94" fill="#4ac16d" shape-rendering="crispEdges"/>
<rect x="1549.85" y="723.17" width="6.38" height="5.94" fill="#5ac864" shape-rendering="crispEdges"/>
<rect x="1556.23" y="723.17" width="6.38" height="5.94" fill="#6ccd5a" shape-rendering="crispEdges"/>
<rect x="1562.61" y="723.17" width="6.38" height="5.94" fill="#7fd34e" shape-rendering="crispEdges"/>
<rect x="1568.99" y="723.17" width="6.38" height="5.94" fill="#93d741" shape-rendering="crispEdges"/>
<rect x="1575.36" y="723.17" width="6.38" height="5.94" fill="#a8db34" shape-rendering="crispEdges"/>
<rect x="1581.74" y="723.17" width="6.38" height="5.94" fill="#bddf26" shape-rendering="crispEdges"/>
<rect x="1588.12" y="723.17" width="6.38" height="5.94" fill="#d2e21b" shape-rendering="crispEdges"/>
<rect x="1447.8" y="729.11" width="6.38" height="5.94" fill="#443b84" shape-rendering="crispEdges"/>
<rect x="1454.17" y="729.11" width="6.38" height="5.94" fill="#404588" shape-rendering="crispEdges"/>
<rect x="1460.55" y="729.11" width="6.38" height="5.94" fill="#3d4d8a" shape-rendering="crispEdges"/>
<rect x="1466.93" y="729.11" width="6.38" height="5.94" fill="#39558c" shape-rendering="crispEdges"/>
<rect x="1473.31" y="729.11" width="6.38" height="5.94" fill="#365d8d" shape-rendering="crispEdges"/>
<rect x="1479.69" y="729.11" width="6.38" height="5.94" fill="#32658e" shape-rendering="crispEdges"/>
<rect x="1486.07" y="729.11" width="6.38" height="5.94" fill="#2e6d8e" shape-rendering="crispEdges"/>
<rect x="1492.45" y="729.11" width="6.38" height="5.94" fill="#2c738e" shape-rendering="crispEdges"/>
<rect x="1498.82" y="729.11" width="6.38" height="5.94" fill="#297b8e" shape-rendering="crispEdges"/>
<rect x="1505.2" y="729.11" width="6.38" height="5.94" fill="#26828e" shape-rendering="crispEdges"/>
<rect x="1511.58" y="729.11" width="6.38" height="5.94" fill="#23898e" shape-rendering="crispEdges"/>
<rect x="1517.96" y="729.11" width="6.38" height="5.94" fill="#21918c" shape-rendering="crispEdges"/>
<rect x="1524.34" y="729.11" width="6.38" height="5.94" fill="#1f978b" shape-rendering="crispEdges"/>
<rect x="1530.72" y="729.11" width="6.38" height="5.94" fill="#1f9f88" shape-rendering="crispEdges"/>
<rect x="1537.09" y="729.11" width="6.38" height="5.94" fill="#21a585" shape-rendering="crispEdges"/>
<rect x="1543.47" y="729.11" width="6.38" height="5.94" fill="#26ad81" shape-rendering="crispEdges"/>
<rect x="1549.85" y="729.11" width="6.38" height="5.94" fill="#2fb47c" shape-rendering="crispEdges"/>
<rect x="1556.23" y="729.11" width="6.38" height="5.94" fill="#3aba76" shape-rendering="crispEdges"/>
<rect x="1562.61" y="729.11" width="6.38" height="5.94" fill="#48c16e" shape-rendering="crispEdges"/>
<rect x="1568.99" y="729.11" width="6.38" height="5.94" fill="#56c667" shape-rendering="crispEdges"/>
<rect x="1575.36" y="729.11" width="6.38" height="5.94" fill="#67cc5c" shape-rendering="crispEdges"/>
<rect x="1581.74" y="729.11" width="6.38" height="5.94" fill="#77d153" shape-rendering="crispEdges"/>
<rect x="1588.12" y="729.11" width="6.38" height="5.94" fill="#8bd646" shape-rendering="crispEdges"/>
<rect x="1460.55" y="735.05" width="6.38" height="5.94" fill="#443b84" shape-rendering="crispEdges"/>
<rect x="1466.93" y="735.05" width="6.38" height="5.94" fill="#414487" shape-rendering="crispEdges"/>
<rect x="1473.31" y="735.05" width="6.38" height="5.94" fill="#3e4c8a" shape-rendering="crispEdges"/>
<rect x="1479.69" y="735.05" width="6.38" height="5.94" fill="#3a538b" shape-rendering="crispEdges"/>
<rect x="1486.07" y="735.05" width="6.38" height="5.94" fill="#375b8d" shape-rendering="crispEdges"/>
<rect x="1492.45" y="735.05" width="6.38" height="5.94" fill="#33628d" shape-rendering="crispEdges"/>
<rect x="1498.82" y="735.05" width="6.38" height="5.94" fill="#306a8e" shape-rendering="crispEdges"/>
<rect x="1505.2" y="735.05" width="6.38" height="5.94" fill="#2d718e" shape-rendering="crispEdges"/>
<rect x="1511.58" y="735.05" width="6.38" height="5.94" fill="#2a778e" shape-rendering="crispEdges"/>
<rect x="1517.96" y="735.05" width="6.38" height="5.94" fill="#277e8e" shape-rendering="crispEdges"/>
<rect x="1524.34" y="735.05" width="6.38" height="5.94" fill="#25848e" shape-rendering="crispEdges"/>
<rect x="1530.72" y="735.05" width="6.38" height="5.94" fill="#228b8d" shape-rendering="crispEdges"/>
<rect x="1537.09" y="735.05" width="6.38" height="5.94" fill="#20928c" shape-rendering="crispEdges"/>
<rect x="1543.47" y="735.05" width="6.38" height="5.94" fill="#1f998a" shape-rendering="crispEdges"/>
<rect x="1549.85" y="735.05" width="6.38" height="5.94" fill="#1fa088" shape-rendering="crispEdges"/>
<rect x="1556.23" y="735.05" width="6.38" height="5.94" fill="#21a685" shape-rendering="crispEdges"/>
<rect x="1562.61" y="735.05" width="6.38" height="5.94" fill="#26ad81" shape-rendering="crispEdges"/>
<rect x="1568.99" y="735.05" width="6.38" height="5.94" fill="#2eb37c" shape-rendering="crispEdges"/>
<rect x="1575.36" y="735.05" width="6.38" height="5.94" fill="#3aba76" shape-rendering="crispEdges"/>
<rect x="1581.74" y="735.05" width="6.38" height="5.94" fill="#46c06f" shape-rendering="crispEdges"/>
<rect x="1588.12" y="735.05" width="6.38" height="5.94" fill="#54c568" shape-rendering="crispEdges"/>
<rect x="1473.31" y="740.99" width="6.38" height="5.94" fill="#443a83" shape-rendering="crispEdges"/>
<rect x="1479.69" y="740.99" width="6.38" height="5.94" fill="#414287" shape-rendering="crispEdges"/>
<rect x="1486.07" y="740.99" width="6.38" height="5.94" fill="#3e4a89" shape-rendering="crispEdges"/>
<rect x="1492.45" y="740.99" width="6.38" height="5.94" fill="#3b518b" shape-rendering="crispEdges"/>
<rect x="1498.82" y="740.99" width="6.38" height="5.94" fill="#38598c" shape-rendering="crispEdges"/>
<rect x="1505.2" y="740.99" width="6.38" height="5.94" fill="#34608d" shape-rendering="crispEdges"/>
<rect x="1511.58" y="740.99" width="6.38" height="5.94" fill="#31678e" shape-rendering="crispEdges"/>
<rect x="1517.96" y="740.99" width="6.38" height="5.94" fill="#2e6e8e" shape-rendering="crispEdges"/>
<rect x="1524.34" y="740.99" width="6.38" height="5.94" fill="#2c738e" shape-rendering="crispEdges"/>
<rect x="1530.72" y="740.99" width="6.38" height="5.94" fill="#297a8e" shape-rendering="crispEdges"/>
<rect x="1537.09" y="740.99" width="6.38" height="5.94" fill="#26818e" shape-rendering="crispEdges"/>
<rect x="1543.47" y="740.99" width="6.38" height="5.94" fill="#24878e" shape-rendering="crispEdges"/>
<rect x="1549.85" y="740.99" width="6.38" height="5.94" fill="#218e8d" shape-rendering="crispEdges"/>
<rect x="1556.23" y="740.99" width="6.38" height="5.94" fill="#20938c" shape-rendering="crispEdges"/>
<rect x="1562.61" y="740.99" width="6.38" height="5.94" fill="#1f9a8a" shape-rendering="crispEdges"/>
<rect x="1568.99" y="740.99" width="6.38" height="5.94" fill="#1fa188" shape-rendering="crispEdges"/>
<rect x="1575.36" y="740.99" width="6.38" height="5.94" fill="#22a785" shape-rendering="crispEdges"/>
<rect x="1581.74" y="740.99" width="6.38" height="5.94" fill="#27ad81" shape-rendering="crispEdges"/>
<rect x="1588.12" y="740.99" width="6.38" height="5.94" fill="#2eb37c" shape-rendering="crispEdges"/>
<rect x="1492.45" y="746.94" width="6.38" height="5.94" fill="#443983" shape-rendering="crispEdges"/>
<rect x="1498.82" y="746.94" width="6.38" height="5.94" fill="#424186" shape-rendering="crispEdges"/>
<rect x="1505.2" y="746.94" width="6.38" height="5.94" fill="#3e4989" shape-rendering="crispEdges"/>
<rect x="1511.58" y="746.94" width="6.38" height="5.94" fill="#3c508b" shape-rendering="crispEdges"/>
<rect x="1517.96" y="746.94" width="6.38" height="5.94" fill="#38588c" shape-rendering="crispEdges"/>
<rect x="1524.34" y="746.94" width="6.38" height="5.94" fill="#355f8d" shape-rendering="crispEdges"/>
<rect x="1530.72" y="746.94" width="6.38" height="5.94" fill="#32658e" shape-rendering="crispEdges"/>
<rect x="1537.09" y="746.94" width="6.38" height="5.94" fill="#2f6c8e" shape-rendering="crispEdges"/>
<rect x="1543.47" y="746.94" width="6.38" height="5.94" fill="#2c728e" shape-rendering="crispEdges"/>
<rect x="1549.85" y="746.94" width="6.38" height="5.94" fill="#2a788e" shape-rendering="crispEdges"/>
<rect x="1556.23" y="746.94" width="6.38" height="5.94" fill="#277f8e" shape-rendering="crispEdges"/>
<rect x="1562.61" y="746.94" width="6.38" height="5.94" fill="#25858e" shape-rendering="crispEdges"/>
<rect x="1568.99" y="746.94" width="6.38" height="5.94" fill="#228b8d" shape-rendering="crispEdges"/>
<rect x="1575.36" y="746.94" width="6.38" height="5.94" fill="#20928c" shape-rendering="crispEdges"/>
<rect x="1581.74" y="746.94" width="6.38" height="5.94" fill="#1f988b" shape-rendering="crispEdges"/>
<rect x="1588.12" y="746.94" width="6.38" height="5.94" fill="#1f9e89" shape-rendering="crispEdges"/>
<rect x="1524.34" y="752.88" width="6.38" height="5.94" fill="#443983" shape-rendering="crispEdges"/>
<rect x="1530.72" y="752.88" width="6.38" height="5.94" fill="#424186" shape-rendering="crispEdges"/>
<rect x="1537.09" y="752.88" width="6.38" height="5.94" fill="#3e4989" shape-rendering="crispEdges"/>
<rect x="1543.47" y="752.88" width="6.38" height="5.94" fill="#3b518b" shape-rendering="crispEdges"/>
<rect x="1549.85" y="752.88" width="6.38" height="5.94" fill="#38598c" shape-rendering="crispEdges"/>
<rect x="1556.23" y="752.88" width="6.38" height="5.94" fill="#34608d" shape-rendering="crispEdges"/>
<rect x="1562.61" y="752.88" width="6.38" height="5.94" fill="#31678e" shape-rendering="crispEdges"/>
<rect x="1568.99" y="752.88" width="6.38" height="5.94" fill="#2e6e8e" shape-rendering="crispEdges"/>
<rect x="1575.36" y="752.88" width="6.38" height="5.94" fill="#2b748e" shape-rendering="crispEdges"/>
<rect x="1581.74" y="752.88" width="6.38" height="5.94" fill="#297b8e" shape-rendering="crispEdges"/>
<rect x="1588.12" y="752.88" width="6.38" height="5.94" fill="#26828e" shape-rendering="crispEdges"/>
<rect x="1581.74" y="758.82" width="6.38" height="5.94" fill="#443983" shape-rendering="crispEdges"/>
<rect x="1588.12" y="758.82" width="6.38" height="5.94" fill="#414487" shape-rendering="crispEdges"/>
<line x1="1295.17" y1="467.7" x2="1295.17" y2="770.7" stroke="#b0b0b0" stroke-opacity="0.5" stroke-width="1.7"/>
<line x1="1409.07" y1="467.7" x2="1409.07" y2="770.7" stroke="#b0b0b0" stroke-opacity="0.5" stroke-width="1.7"/>
<line x1="1522.97" y1="467.7" x2="1522.97" y2="770.7" stroke="#b0b0b0" stroke-opacity="0.5" stroke-width="1.7"/>
<line x1="1269.2" y1="695.7" x2="1594.5" y2="695.7" stroke="#b0b0b0" stroke-opacity="0.5" stroke-width="1.7"/>
<line x1="1269.2" y1="620.7" x2="1594.5" y2="620.7" stroke="#b0b0b0" stroke-opacity="0.5" stroke-width="1.7"/>
<line x1="1269.2" y1="545.7" x2="1594.5" y2="545.7" stroke="#b0b0b0" stroke-opacity="0.5" stroke-width="1.7"/>
<line x1="1269.2" y1="470.7" x2="1594.5" y2="470.7" stroke="#b0b0b0" stroke-opacity="0.5" stroke-width="1.7"/>
<rect x="1269.2" y="467.7" width="325.3" height="303" fill="none" stroke="#000" stroke-opacity="0.5" stroke-width="2"/>
<line x1="1295.17" y1="770.7" x2="1295.17" y2="774.7" stroke="#000" stroke-opacity="0.5" stroke-width="2"/>
<text x="1295.17" y="798.9" font-size="27.5" text-anchor="middle">25</text>
<line x1="1409.07" y1="770.7" x2="1409.07" y2="774.7" stroke="#000" stroke-opacity="0.5" stroke-width="2"/>
<text x="1409.07" y="798.9" font-size="27.5" text-anchor="middle">50</text>
<line x1="1522.97" y1="770.7" x2="1522.97" y2="774.7" stroke="#000" stroke-opacity="0.5" stroke-width="2"/>
<text x="1522.97" y="798.9" font-size="27.5" text-anchor="middle">75</text>
<line x1="1265.2" y1="695.7" x2="1269.2" y2="695.7" stroke="#000" stroke-opacity="0.5" stroke-width="2"/>
<text x="1260.7" y="705.4" font-size="27.5" text-anchor="end">0.25</text>
<line x1="1265.2" y1="620.7" x2="1269.2" y2="620.7" stroke="#000" stroke-opacity="0.5" stroke-width="2"/>
<text x="1260.7" y="630.4" font-size="27.5" text-anchor="end">0.50</text>
<line x1="1265.2" y1="545.7" x2="1269.2" y2="545.7" stroke="#000" stroke-opacity="0.5" stroke-width="2"/>
<text x="1260.7" y="555.4" font-size="27.5" text-anchor="end">0.75</text>
<line x1="1265.2" y1="470.7" x2="1269.2" y2="470.7" stroke="#000" stroke-opacity="0.5" stroke-width="2"/>
<text x="1260.7" y="480.4" font-size="27.5" text-anchor="end">1.00</text>
<text x="1431.85" y="828.2" font-size="27.5" text-anchor="middle">Gain current (mA)</text>
<text transform="translate(1201,619.5) rotate(-90)" font-size="27.5" text-anchor="middle">Reflectivity (-)</text>
<text x="1578.3" y="512.8" font-size="37.5" fill="#fff" text-anchor="end">(f)</text>
<text x="1578.5" y="558" font-size="37.5" fill="#fff" text-anchor="end">V<tspan font-size="25" dy="6">rb</tspan><tspan dy="-6">=1.0 V</tspan></text>
<defs><linearGradient id="gf" x1="0" y1="0" x2="0" y2="1"><stop offset="0" stop-color="#fde725"/><stop offset="0.05" stop-color="#dfe318"/><stop offset="0.1" stop-color="#bddf26"/><stop offset="0.15" stop-color="#9bd93c"/><stop offset="0.2" stop-color="#7ad151"/><stop offset="0.25" stop-color="#5ec962"/><stop offset="0.3" stop-color="#44bf70"/><stop offset="0.35" stop-color="#2fb47c"/><stop offset="0.4" stop-color="#22a884"/><stop offset="0.45" stop-color="#1e9c89"/><stop offset="0.5" stop-color="#21918c"/><stop offset="0.55" stop-color="#25848e"/><stop offset="0.6" stop-color="#2a788e"/><stop offset="0.65" stop-color="#2f6c8e"/><stop offset="0.7" stop-color="#355f8d"/><stop offset="0.75" stop-color="#3b528b"/><stop offset="0.8" stop-color="#414487"/><stop offset="0.85" stop-color="#463480"/><stop offset="0.9" stop-color="#482475"/><stop offset="0.95" stop-color="#471365"/><stop offset="1" stop-color="#440154"/></linearGradient></defs>
<rect x="1613.9" y="468.2" width="15.4" height="302.5" fill="url(#gf)" stroke="#000" stroke-opacity="0.5" stroke-width="1.2"/>
<line x1="1629.3" y1="770.7" x2="1633.3" y2="770.7" stroke="#000" stroke-opacity="0.5" stroke-width="2"/>
<text x="1637" y="780.4" font-size="27.5">0.00</text>
<line x1="1629.3" y1="684.27" x2="1633.3" y2="684.27" stroke="#000" stroke-opacity="0.5" stroke-width="2"/>
<text x="1637" y="693.97" font-size="27.5">0.02</text>
<line x1="1629.3" y1="597.84" x2="1633.3" y2="597.84" stroke="#000" stroke-opacity="0.5" stroke-width="2"/>
<text x="1637" y="607.54" font-size="27.5">0.04</text>
<line x1="1629.3" y1="511.41" x2="1633.3" y2="511.41" stroke="#000" stroke-opacity="0.5" stroke-width="2"/>
<text x="1637" y="521.11" font-size="27.5">0.06</text>
<text transform="translate(1710.2,619.45) rotate(-90)" font-size="27.5" text-anchor="middle">Avg. power (mW)</text>
</svg>
</body></html>
